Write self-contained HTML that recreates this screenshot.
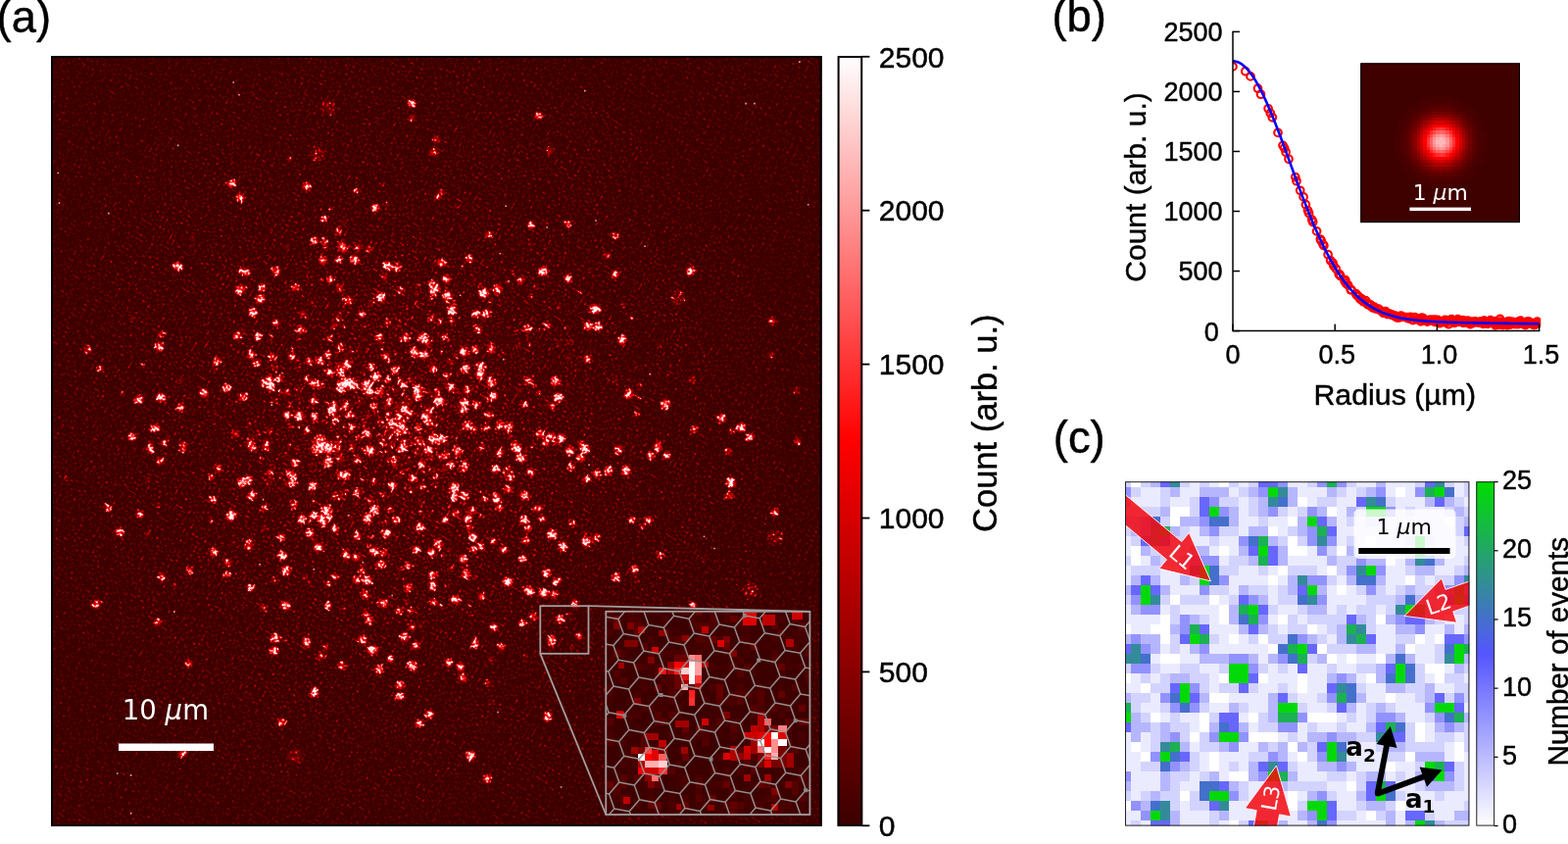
<!DOCTYPE html>
<html lang="en"><head><meta charset="utf-8"><title>Figure</title>
<style>html,body{margin:0;padding:0;background:#fff;overflow:hidden}svg{display:block}text{white-space:pre}</style>
</head><body>
<svg width="1600" height="861" viewBox="0 0 1600 861">
<rect width="1600" height="861" fill="#fff"/>
<defs>
<filter id="fA" filterUnits="userSpaceOnUse" x="-117.2" y="-112.4" width="1124.8" height="1124.8" color-interpolation-filters="sRGB"><feGaussianBlur in="SourceGraphic" stdDeviation="1.8" result="I"/><feTurbulence type="fractalNoise" baseFrequency="0.41" numOctaves="1" seed="11" result="n0"/><feColorMatrix in="n0" type="matrix" values="1 0 0 0 0  1 0 0 0 0  1 0 0 0 0  0 0 0 0 1" result="n1"/><feComponentTransfer in="n1" result="N"><feFuncR type="table" tableValues="0.0000 0.0001 0.0004 0.0017 0.0063 0.0239 0.0907 0.3442 1.0000 1.0000 1.0000"/><feFuncG type="table" tableValues="0.0000 0.0001 0.0004 0.0017 0.0063 0.0239 0.0907 0.3442 1.0000 1.0000 1.0000"/><feFuncB type="table" tableValues="0.0000 0.0001 0.0004 0.0017 0.0063 0.0239 0.0907 0.3442 1.0000 1.0000 1.0000"/></feComponentTransfer><feComposite in="I" in2="N" operator="arithmetic" k1="18" k2="0.72" k3="0" k4="-0.02" result="V"/><feComponentTransfer in="V"><feFuncR type="table" tableValues="0.227 1 1"/><feFuncG type="table" tableValues="0 0 1"/><feFuncB type="table" tableValues="0 0 1"/><feFuncA type="linear" slope="0" intercept="1"/></feComponentTransfer></filter>
<radialGradient id="glowA" gradientUnits="userSpaceOnUse" cx="410" cy="440" r="400"><stop offset="0" stop-color="#0c0c0c"/><stop offset="0.2" stop-color="#0b0b0b"/><stop offset="0.4" stop-color="#090909"/><stop offset="0.65" stop-color="#070707"/><stop offset="0.85" stop-color="#060606"/><stop offset="1" stop-color="#050505"/></radialGradient>
<linearGradient id="cbA" x1="0" y1="1" x2="0" y2="0"><stop offset="0" stop-color="#3a0000"/><stop offset="0.5" stop-color="#ff0000"/><stop offset="1" stop-color="#ffffff"/></linearGradient>
<clipPath id="clipA"><rect x="52.0" y="57.0" width="786.5" height="786.0"/></clipPath>
</defs>
<rect x="52.0" y="57.0" width="786.5" height="786.0" fill="#3a0000"/>
<g clip-path="url(#clipA)"><g transform="rotate(31 445.25 450.0)"><g filter="url(#fA)"><g transform="rotate(-31 445.25 450.0)">
<rect x="-148.0" y="-143.0" width="1186.5" height="1186.0" fill="url(#glowA)"/>
<path d="M445.5 200.7l1.5 0.3M813.9 448.9l-0.2 2.5M327.5 391.5l0.7 2.4M395.9 421.8l0.0 0.0M458.7 369.5l-0.0 0.0M593.3 451.9l-0.7 1.3M390.4 504.2l0.4 1.4M448.8 465.0l-0.2 1.0M279.6 592.2l-0.0 0.0M335.6 595.1l-1.7 1.1M267.6 620.0l2.0 0.0" fill="none" stroke="#fff" stroke-opacity="0.42" stroke-width="4.0" stroke-linecap="round"/>
<path d="M444.8 142.2l1.6 1.3M163.8 340.9l-0.0 0.0M103.4 375.3l-2.3 0.9M308.4 319.6l0.6 0.8M347.6 352.0l-0.0 0.0M461.4 326.4l-0.7 1.3M292.7 399.0l-0.6 1.4M253.7 451.0l1.9 0.7M345.2 451.4l-0.0 0.0M446.9 398.3l-1.1 1.7M518.5 477.1l0.0 0.0M493.5 508.6l2.3 0.9M655.8 537.5l0.0 0.0M419.9 622.9l-1.5 1.3M597.2 556.0l0.9 0.4M332.5 660.3l-0.1 1.0" fill="none" stroke="#fff" stroke-opacity="0.5" stroke-width="4.0" stroke-linecap="round"/>
<path d="M344.7 234.6l1.0 2.3M331.3 246.3l0.1 2.0M340.6 332.8l0.0 0.0M392.4 282.9l-0.0 0.0M449.3 328.2l-0.0 0.0M452.7 343.3l1.5 0.0M501.1 352.6l0.0 0.0M249.9 403.3l0.3 1.0M567.4 451.4l-0.0 0.0M187.2 456.6l-0.3 1.5M359.7 456.1l-0.8 1.3M402.8 474.7l0.0 0.0M382.0 490.6l-1.3 0.8M430.5 496.1l0.5 1.4M479.4 537.4l-0.7 1.3M552.4 528.7l2.2 1.2M551.2 518.3l-0.0 0.0M373.2 625.4l0.1 2.0M562.0 655.1l1.3 2.1" fill="none" stroke="#fff" stroke-opacity="0.6" stroke-width="4.0" stroke-linecap="round"/>
<path d="M548.8 117.2l2.2 1.1M450.9 267.9l1.8 0.9M708.3 437.3l-0.4 1.4M312.7 386.9l-0.0 0.0M413.2 438.5l0.2 1.5M455.8 382.9l0.0 0.0M496.5 436.3l-0.0 0.0M164.7 469.7l-1.8 0.9M110.0 517.5l0.8 1.3M232.1 586.1l-0.9 0.3M275.6 482.3l0.0 0.0M269.7 518.3l-0.0 0.0M473.4 477.4l0.9 0.5M505.3 505.4l2.1 1.4M582.4 476.2l1.4 0.5M584.3 534.0l0.0 0.0M443.7 614.2l-1.5 0.1M420.8 639.8l0.0 0.0M399.0 671.5l-0.7 1.9" fill="none" stroke="#fff" stroke-opacity="0.75" stroke-width="4.5" stroke-linecap="round"/>
<path d="M167.3 452.0l-0.0 0.0M267.6 292.1l-0.4 2.5M478.3 263.0l1.4 1.4M787.5 327.5l0.0 0.0M262.9 370.5l-2.5 0.4M397.6 407.9l-1.2 2.2M563.4 414.2l0.0 0.0M294.7 482.3l0.0 0.0M429.5 473.1l1.2 2.2M517.5 498.9l2.0 0.4M510.4 517.7l-0.0 0.0M503.4 552.0l-0.0 0.0M599.8 488.5l-2.0 0.3M586.6 614.7l0.0 2.5" fill="none" stroke="#fff" stroke-opacity="0.85" stroke-width="4.5" stroke-linecap="round"/>
<path d="M541.8 228.9l-0.0 1.5M243.1 342.2l-1.6 1.2M222.3 367.9l-1.7 1.8M247.4 405.5l0.0 0.0M315.2 368.7l0.9 0.4M313.3 439.2l0.0 0.0M395.9 387.5l0.0 0.0M381.3 414.3l0.2 1.0M535.4 412.5l0.0 0.0M152.9 457.3l0.9 2.3M142.4 524.7l1.0 0.0M193.6 582.3l-0.0 0.0M286.5 547.5l1.2 0.8M402.8 468.4l0.0 0.0M364.1 502.2l-0.4 0.9M254.9 599.3l1.9 0.7M441.8 599.7l0.0 0.0M569.0 592.5l-1.9 1.6M591.2 649.1l-0.0 0.0M564.0 652.0l-2.5 0.1M428.9 737.8l-2.4 0.7" fill="none" stroke="#fff" stroke-opacity="0.95" stroke-width="4.5" stroke-linecap="round"/>
<path d="M446.0 294.0l-0.0 0.0M330.8 223.4l-0.0 0.0M579.6 228.1l0.0 0.0M320.8 424.3l0.2 2.0M352.9 413.1l-1.2 2.2M355.8 423.5l0.0 0.0M216.8 509.4l0.9 0.5M218.1 561.8l0.6 2.4M454.4 529.8l-0.7 1.3M537.6 551.3l-1.0 0.2M680.7 464.7l-1.0 0.1M490.4 556.6l0.5 1.4" fill="none" stroke="#fff" stroke-opacity="1.0" stroke-width="4.5" stroke-linecap="round"/>
<path d="M153.4 453.6l-0.0 0.0M705.7 387.4l-0.0 0.0M812.6 399.0l0.0 0.0M650.0 422.2l-0.0 0.0M747.6 439.7l0.0 0.0M274.4 439.8l-0.0 0.0" fill="none" stroke="#fff" stroke-opacity="0.28" stroke-width="5.0" stroke-linecap="round"/>
<path d="M420.7 121.2l0.0 0.0M450.0 197.2l-0.0 0.0M619.7 260.8l0.0 0.0M787.0 361.9l0.0 0.0M497.6 696.8l0.0 0.0" fill="none" stroke="#fff" stroke-opacity="0.36" stroke-width="5.0" stroke-linecap="round"/>
<path d="M363.8 195.1l0.0 0.0M626.6 239.7l2.1 1.3M240.5 442.0l0.0 0.0M448.5 267.4l-0.7 0.8M557.9 331.5l0.4 1.4M671.4 452.7l-0.9 0.4M272.0 451.6l0.1 2.0M215.4 486.4l-0.0 0.0M346.6 466.8l0.7 1.9M377.9 510.7l0.0 0.0M397.8 519.7l0.8 0.7M491.8 456.2l0.0 0.0M742.9 460.8l0.0 0.0" fill="none" stroke="#fff" stroke-opacity="0.42" stroke-width="5.0" stroke-linecap="round"/>
<path d="M187.0 453.6l0.0 0.0M346.3 294.0l0.2 1.0M336.5 345.0l0.0 0.0M395.3 329.3l0.0 0.0M440.6 324.7l0.0 0.0M347.6 356.2l-0.0 0.0M419.2 420.8l-1.3 0.7M439.5 417.6l-1.3 1.5M427.3 436.7l-1.3 1.5M300.2 513.6l-0.4 2.5M445.2 486.4l-0.0 0.0M745.3 505.3l-2.4 0.7M252.3 557.5l2.4 0.8M369.9 581.3l-0.4 2.0M407.4 622.3l-0.9 1.2M327.9 668.9l-0.2 1.0" fill="none" stroke="#fff" stroke-opacity="0.5" stroke-width="5.0" stroke-linecap="round"/>
<path d="M246.2 276.5l1.6 1.2M301.0 293.3l2.0 0.1M436.4 347.9l-1.0 2.3M270.9 456.2l-0.0 0.0M446.5 552.9l0.9 0.4M539.5 537.9l-1.4 1.5M548.1 518.8l-1.0 0.2M313.7 653.1l-2.0 0.1M191.7 676.8l0.8 0.6M370.8 655.0l0.0 0.0" fill="none" stroke="#fff" stroke-opacity="0.6" stroke-width="5.0" stroke-linecap="round"/>
<path d="M499.2 239.7l0.0 0.0M282.5 275.8l0.1 2.0M327.6 446.5l-1.9 0.6M223.1 477.8l-0.0 0.0M341.8 588.7l-0.0 0.0M483.2 559.6l0.9 1.2M286.4 736.9l1.5 0.2" fill="none" stroke="#fff" stroke-opacity="0.75" stroke-width="5.0" stroke-linecap="round"/>
<path d="M474.0 473.0l-0.0 0.0M321.2 459.0l1.6 2.0M387.7 343.3l-1.0 1.1M320.6 408.3l-0.6 1.4M541.1 481.0l1.4 1.4M363.2 567.9l0.3 1.0M440.8 586.6l0.7 0.8M491.8 608.4l-0.0 0.0M511.6 660.1l-0.0 0.0M497.8 793.3l-1.2 2.2" fill="none" stroke="#fff" stroke-opacity="0.85" stroke-width="5.0" stroke-linecap="round"/>
<path d="M329.1 265.2l-0.2 1.0M345.8 264.9l0.0 0.0M337.1 285.4l-0.0 0.0M454.4 284.0l1.6 1.2M579.1 283.2l1.1 1.7M765.5 445.1l-1.0 1.7M335.4 379.5l2.3 1.0M284.8 386.3l-1.0 0.2M340.6 413.1l0.0 0.0M451.1 447.6l1.4 0.6M253.7 488.6l-0.4 2.5M645.2 530.5l-0.0 0.0M391.2 564.3l0.0 0.0M534.3 569.8l-1.4 0.6M484.7 657.3l0.2 1.0" fill="none" stroke="#fff" stroke-opacity="0.95" stroke-width="5.0" stroke-linecap="round"/>
<path d="M244.4 201.1l1.5 1.3M184.2 415.5l0.0 1.0M281.4 329.3l-0.0 0.0M441.3 296.8l1.0 2.3M369.7 320.6l0.0 0.0M507.1 293.9l0.8 2.4M256.2 361.2l0.4 1.5M358.7 435.7l0.0 0.0M501.1 356.7l-0.0 0.0M476.7 398.0l0.0 0.0M347.4 484.9l1.4 0.6M320.7 525.1l-2.0 1.5M399.5 494.5l0.9 1.2M334.8 617.7l0.0 0.0M352.5 564.9l0.9 2.3M440.7 563.0l-0.3 1.5M416.2 577.1l-0.0 0.0M409.2 710.3l-2.5 0.0" fill="none" stroke="#fff" stroke-opacity="1.0" stroke-width="5.0" stroke-linecap="round"/>
<path d="M297.6 363.7l-0.0 0.0M269.2 390.5l-0.1 1.0M473.4 417.6l-1.4 1.4M121.2 541.9l1.7 1.9M330.0 533.5l0.3 0.9M405.3 530.2l-1.4 0.6M608.5 482.4l0.3 1.0M706.9 617.6l-0.0 0.0M417.2 599.4l-0.7 0.7M376.7 632.1l-0.1 1.5M469.7 679.6l0.1 2.0" fill="none" stroke="#fff" stroke-opacity="0.75" stroke-width="5.5" stroke-linecap="round"/>
<path d="M143.0 407.5l-2.4 0.6M159.2 436.5l-2.4 0.8M263.4 342.5l-0.1 1.5M440.8 289.5l0.8 0.6M414.3 343.5l-0.8 1.8M326.1 367.6l1.2 1.6M460.2 394.4l0.5 1.4M510.5 433.5l-0.3 1.0M599.4 366.0l0.0 0.0M557.0 451.4l-0.0 0.0M466.5 459.0l0.6 2.4M510.1 461.6l-0.6 0.8M504.5 639.8l-1.0 0.0M565.1 606.1l0.0 0.0M313.2 656.9l-0.0 0.0" fill="none" stroke="#fff" stroke-opacity="0.85" stroke-width="5.5" stroke-linecap="round"/>
<path d="M506.1 510.2l1.0 0.1M382.4 212.0l0.9 0.5M231.7 395.7l-1.0 1.1M736.1 426.2l0.7 1.3M346.6 397.0l1.8 0.8M409.5 433.6l-0.6 0.8M484.8 356.7l0.0 0.0M298.8 485.2l0.0 0.0M257.7 504.8l-1.5 1.4M308.1 528.7l-0.1 2.5M534.2 505.0l2.3 1.0M478.3 529.1l-2.0 0.4M790.5 522.8l0.0 0.0M533.0 635.7l-0.0 0.0M570.7 631.6l1.5 0.2M438.9 728.7l-1.4 0.4" fill="none" stroke="#fff" stroke-opacity="0.95" stroke-width="5.5" stroke-linecap="round"/>
<path d="M441.6 596.1l0.0 0.0M207.4 400.1l1.1 1.6M134.3 445.8l1.0 0.2M251.4 277.6l0.0 0.0M627.8 280.0l0.0 0.0M334.2 362.0l0.0 0.0M292.7 423.1l0.6 0.8M433.6 424.7l0.0 0.0M399.5 430.2l0.9 1.8M374.0 440.9l0.8 1.3M447.6 449.1l-0.0 0.0M486.0 413.1l0.0 0.0M561.7 445.6l1.0 0.0M341.4 538.8l0.6 0.8M661.6 530.5l0.0 0.0M326.1 558.2l-2.5 0.5M463.3 611.6l2.4 0.6M424.2 658.5l0.0 0.0" fill="none" stroke="#fff" stroke-opacity="1.0" stroke-width="5.5" stroke-linecap="round"/>
<path d="M442.3 154.8l1.0 1.1M365.4 252.4l-0.0 0.0M89.5 356.7l-0.0 0.0M322.0 451.4l0.0 0.0M331.3 451.4l-0.0 0.0M430.1 451.4l-0.0 0.0M497.5 423.4l2.5 0.2M344.1 458.5l-0.0 0.0M254.6 552.6l-0.0 0.0M466.1 523.3l-2.0 0.4M608.8 547.8l-1.5 1.4M673.2 566.5l0.0 0.0M543.8 627.8l0.5 1.9" fill="none" stroke="#fff" stroke-opacity="0.42" stroke-width="6.0" stroke-linecap="round"/>
<path d="M531.3 285.8l-0.0 0.0M487.7 335.0l0.1 1.5M540.2 388.0l-1.5 1.3M483.7 437.5l0.0 0.0M232.3 573.5l0.0 0.0M164.9 588.1l0.3 1.0M161.0 635.0l0.0 0.0M365.1 468.9l-0.0 0.0M482.5 520.2l-1.2 0.9M448.0 556.6l-0.9 0.4M372.0 605.6l1.3 2.1M348.2 678.4l1.0 1.1" fill="none" stroke="#fff" stroke-opacity="0.5" stroke-width="6.0" stroke-linecap="round"/>
<path d="M355.1 306.5l-1.0 0.3M537.6 334.9l1.4 0.6M277.9 364.3l0.0 0.0M342.9 428.2l-0.0 0.0M406.9 423.4l0.1 2.5M449.4 408.0l1.2 0.9M550.2 442.4l1.9 0.6M99.0 615.7l-1.4 1.4M455.1 464.7l-1.0 0.3M519.6 486.0l1.3 0.7M631.8 457.9l-0.9 2.3M370.7 651.9l-2.0 0.1M187.5 767.9l-1.8 0.9" fill="none" stroke="#fff" stroke-opacity="0.6" stroke-width="6.0" stroke-linecap="round"/>
<path d="M237.5 187.1l-1.9 0.7M405.2 273.6l-0.0 0.0M496.6 319.0l-1.5 2.0M394.1 363.7l0.0 0.0M442.3 376.5l0.0 0.0M387.2 399.7l0.0 0.0M256.7 455.7l0.5 0.8M335.4 526.0l-0.1 2.0M363.9 591.6l0.0 0.0M391.1 615.4l1.5 0.1M513.9 560.8l0.0 0.0M472.1 691.7l-0.0 0.0" fill="none" stroke="#fff" stroke-opacity="0.75" stroke-width="6.0" stroke-linecap="round"/>
<path d="M349.4 250.8l1.0 2.3M319.9 390.8l1.9 0.5M379.0 374.2l0.0 0.0M411.6 392.7l-0.0 0.0M475.9 375.0l-1.8 1.7M489.7 373.2l1.8 0.8M328.5 458.4l1.0 0.2M592.4 467.2l0.0 0.0M599.4 551.6l-2.4 0.7M663.9 464.8l-0.0 0.0" fill="none" stroke="#fff" stroke-opacity="0.85" stroke-width="6.0" stroke-linecap="round"/>
<path d="M274.3 387.0l-0.0 0.0M180.1 271.3l2.3 0.9M433.7 361.9l-2.5 0.2M402.8 377.6l-0.0 0.0M572.6 446.3l0.1 1.0M301.1 472.4l0.0 0.0M298.9 492.0l-1.4 0.4M319.0 494.9l0.2 1.5M421.4 488.1l0.0 0.0M506.2 478.1l-1.0 0.2M381.0 562.3l2.0 0.4M424.9 560.8l0.0 0.0M387.0 682.4l0.2 1.0M320.9 704.9l-0.1 2.5M458.1 675.9l-0.0 0.0" fill="none" stroke="#fff" stroke-opacity="0.95" stroke-width="6.0" stroke-linecap="round"/>
<path d="M389.2 302.0l-0.5 2.5M486.0 320.0l-0.0 0.0M599.5 332.0l0.9 0.4M635.2 346.1l-0.9 1.2M412.8 417.7l1.0 0.1M567.3 388.7l-1.0 1.1M287.5 566.0l1.6 1.2M408.0 699.1l-0.0 0.0" fill="none" stroke="#fff" stroke-opacity="1.0" stroke-width="6.0" stroke-linecap="round"/>
<path d="M376.6 253.6l-0.0 0.0M561.0 153.7l-0.0 0.0M345.2 324.7l-0.0 0.0M409.2 296.2l-0.0 0.0M390.7 451.4l0.0 0.0M525.5 452.6l0.0 0.0M484.8 653.7l0.0 0.0" fill="none" stroke="#fff" stroke-opacity="0.28" stroke-width="6.5" stroke-linecap="round"/>
<path d="M342.9 506.1l-0.0 0.0" fill="none" stroke="#fff" stroke-opacity="0.36" stroke-width="6.5" stroke-linecap="round"/>
<path d="M320.8 245.5l0.0 0.0M162.1 353.2l1.0 1.1M306.9 336.9l0.0 0.0M436.6 428.5l1.0 1.7M442.7 446.6l-2.0 1.6M519.4 434.8l-0.5 1.9M642.2 400.9l-0.8 2.4M364.5 546.8l-0.0 0.0M459.9 474.2l0.0 0.0M621.5 479.2l-1.3 1.5M670.9 457.3l0.0 0.0M389.4 575.7l-0.9 0.3M647.6 581.1l-0.0 0.0" fill="none" stroke="#fff" stroke-opacity="0.75" stroke-width="6.5" stroke-linecap="round"/>
<path d="M422.4 358.1l1.1 2.2M313.2 190.2l0.0 0.0M245.8 295.6l-1.4 1.4M394.8 270.7l2.2 1.2M705.1 276.2l-0.9 0.4M679.5 411.6l-0.9 1.8M347.3 378.7l0.5 1.4M477.1 433.6l-0.7 0.7M247.4 491.3l-0.9 1.8M315.8 543.5l0.7 0.7M411.6 455.7l-1.2 2.2M281.0 650.1l-0.5 1.4" fill="none" stroke="#fff" stroke-opacity="0.85" stroke-width="6.5" stroke-linecap="round"/>
<path d="M420.0 105.6l-0.0 0.0M461.2 315.3l-0.3 2.5M352.9 484.6l-0.0 0.0M530.5 466.6l1.7 1.1M463.4 507.3l0.0 0.0M482.7 547.6l0.8 0.6M472.6 570.1l0.0 0.0M574.2 556.6l0.3 1.5" fill="none" stroke="#fff" stroke-opacity="0.95" stroke-width="6.5" stroke-linecap="round"/>
<path d="M494.5 298.4l-2.0 1.5M426.0 403.3l0.2 1.0M446.8 408.3l0.4 1.5M474.2 411.0l-0.7 0.7M375.1 527.5l-0.3 2.5M526.3 456.9l1.8 0.9M516.8 593.4l2.3 0.9M557.5 584.6l0.0 0.0M553.7 604.8l2.0 0.2M480.1 770.4l0.1 1.5" fill="none" stroke="#fff" stroke-opacity="1.0" stroke-width="6.5" stroke-linecap="round"/>
<path d="M163.3 405.4l2.0 0.2M266.1 304.7l-0.9 0.4M257.7 318.0l0.8 1.3M500.7 389.2l0.8 1.3M428.9 537.9l-1.0 0.2M292.1 581.1l-0.5 2.4M412.9 649.2l-0.3 1.0M475.6 585.8l0.0 0.0M629.0 588.7l-0.0 0.0M558.9 730.7l-0.3 0.9" fill="none" stroke="#fff" stroke-opacity="0.75" stroke-width="7.0" stroke-linecap="round"/>
<path d="M353.9 371.5l-0.8 1.8M376.3 398.8l0.7 0.7M472.8 358.8l0.8 0.6M503.4 403.8l-0.0 0.0M336.4 456.1l-0.8 2.4M334.9 470.0l-0.2 2.5M473.8 505.5l-0.0 0.0M595.7 456.9l1.6 1.9M290.8 617.5l0.9 0.4M279.7 663.8l0.0 0.0M420.0 678.7l1.5 1.4" fill="none" stroke="#fff" stroke-opacity="0.85" stroke-width="7.0" stroke-linecap="round"/>
<path d="M355.6 389.4l0.0 0.0M328.2 454.1l-0.8 0.5M327.8 528.7l-0.0 0.0M332.0 519.9l2.0 0.2M359.1 393.3l1.5 0.1" fill="none" stroke="#fff" stroke-opacity="0.9" stroke-width="7.0" stroke-linecap="round"/>
<path d="M430.6 344.4l1.5 0.1M554.8 276.9l-1.4 0.4M609.8 333.4l-0.0 0.0M756.4 436.2l0.0 0.0M339.9 418.0l-1.0 1.7M375.1 392.1l-1.5 0.1M490.2 381.2l-0.4 0.9M570.5 405.3l-1.5 0.4M437.1 459.1l0.0 0.0M382.6 519.3l-0.2 1.5M534.8 530.5l0.0 0.0M581.4 460.2l0.0 0.0M373.7 591.9l1.4 0.4M381.1 663.0l-2.0 0.3" fill="none" stroke="#fff" stroke-opacity="0.95" stroke-width="7.0" stroke-linecap="round"/>
<path d="M348.8 392.0l2.5 0.0M362.2 264.9l-0.0 0.0M456.5 301.0l-0.2 1.0M606.2 315.3l2.5 0.2M276.3 393.2l-0.2 1.5M305.1 423.9l0.2 1.5M384.2 384.5l-1.0 0.3M425.5 396.8l-0.0 0.0M236.6 524.9l-1.6 1.9M376.8 458.9l1.0 0.3M394.7 543.9l-0.0 0.0M463.5 496.7l-0.2 2.5M638.9 479.5l-0.1 1.0M562.6 545.6l1.5 0.0M745.6 491.4l0.2 1.5M539.5 602.7l1.1 1.0" fill="none" stroke="#fff" stroke-opacity="1.0" stroke-width="7.0" stroke-linecap="round"/>
<path d="M334.8 109.6l0.0 0.0M324.3 157.2l0.0 0.0M691.8 303.8l0.0 0.0M791.7 547.9l0.0 0.0M766.1 602.5l0.0 0.0M301.1 771.1l-0.0 0.0" fill="none" stroke="#fff" stroke-opacity="0.09" stroke-width="15" stroke-linecap="round"/>
<path d="M368 500h0M430 415h0M303 367h0M419 324h0M330 561h0M445 426h0M429 441h0M417 521h0M417 408h0M400 453h0M405 440h0M418 386h0M412 435h0M320 431h0M363 327h0M422 498h0M473 271h0M360 305h0M297 468h0M287 500h0M372 441h0M274 495h0M400 432h0M719 569h0M284 651h0M397 443h0M339 438h0M441 466h0M444 495h0M360 388h0M397 439h0M425 452h0M367 410h0M440 439h0M317 475h0M354 409h0M406 414h0M348 317h0M450 359h0M389 189h0M242 411h0M339 509h0M375 538h0M461 435h0M406 443h0M434 470h0M579 334h0M278 475h0M247 266h0M452 428h0M511 307h0M402 504h0M539 345h0M408 329h0M406 442h0M407 429h0M560 409h0M406 440h0M413 592h0M371 379h0M508 380h0M413 467h0M376 424h0M597 544h0M408 388h0M386 386h0M398 410h0M411 448h0M485 395h0M413 449h0M288 381h0M261 429h0M396 461h0M390 533h0M430 473h0M237 443h0M405 441h0M416 472h0M425 462h0M454 418h0M442 443h0M359 424h0M479 618h0M315 283h0M189 405h0M404 439h0M433 498h0M516 480h0M406 438h0M305 346h0M351 433h0M348 420h0M286 486h0M349 419h0M240 443h0M249 337h0M557 228h0M467 380h0M277 341h0M420 443h0M438 453h0M412 439h0M335 497h0M476 528h0M418 421h0M405 373h0M441 401h0M408 270h0M278 489h0M502 716h0M390 357h0M521 479h0M249 584h0M436 442h0M419 410h0M400 395h0M513 361h0M427 346h0M456 455h0M371 380h0M428 422h0M465 413h0M401 434h0M307 423h0M178 597h0M397 446h0M417 637h0M459 561h0M398 455h0M456 446h0M392 453h0M501 383h0M438 323h0M389 428h0M403 324h0M245 338h0M381 403h0M374 358h0M365 570h0M406 437h0M465 471h0M196 242h0M305 405h0M455 598h0M317 503h0M465 445h0M534 598h0M429 457h0M419 409h0M251 279h0M404 360h0M526 523h0M485 461h0M399 418h0M393 447h0M255 356h0M349 437h0M448 444h0M682 383h0M298 418h0M450 429h0M443 487h0M602 277h0M439 423h0M650 593h0M376 550h0M411 418h0M303 399h0M439 422h0M395 401h0M408 412h0M467 211h0M368 448h0M478 406h0M397 468h0" fill="none" stroke="#fff" stroke-opacity="0.3" stroke-width="2.4" stroke-linecap="round"/>
<path d="M242 442h0M407 346h0M431 540h0M250 292h0M364 513h0M413 449h0M506 440h0M345 446h0M318 309h0M536 669h0M345 454h0M406 375h0M540 351h0M430 396h0M363 541h0M171 447h0M536 460h0M411 483h0M352 416h0M371 430h0M453 477h0M456 346h0M375 426h0M278 410h0M428 463h0M340 454h0M363 472h0M580 393h0M305 376h0M407 435h0M351 227h0M581 365h0M473 514h0M411 451h0M443 478h0M387 398h0M68 488h0M380 547h0M312 323h0M459 581h0M215 531h0M293 252h0M553 439h0M401 498h0M353 395h0M438 525h0M493 438h0M315 595h0M403 334h0M427 448h0M395 437h0M340 451h0M426 291h0M408 391h0M365 358h0M336 372h0M330 431h0M415 406h0M673 352h0M527 338h0M418 480h0M363 387h0M351 257h0M416 314h0M277 346h0M524 278h0M407 426h0M406 398h0M447 557h0M583 660h0M238 554h0M405 495h0M408 485h0M441 458h0M436 422h0M327 286h0M418 454h0M518 287h0M432 427h0M410 442h0M408 440h0M435 459h0M491 291h0M291 464h0M451 446h0M387 433h0M402 451h0M416 428h0M431 399h0M416 615h0M428 384h0M334 412h0M389 465h0M302 458h0M402 398h0M222 481h0M501 408h0M399 469h0M360 450h0M270 539h0M315 532h0M442 479h0M220 422h0M507 518h0M501 307h0M438 479h0M299 356h0M382 305h0M542 249h0M338 213h0M406 444h0M352 304h0M476 579h0M570 313h0M383 406h0M394 414h0M471 480h0M353 362h0M570 352h0M255 433h0M493 503h0M371 346h0M334 426h0M409 441h0M135 325h0M365 435h0M330 243h0M306 434h0M391 546h0M366 446h0M446 457h0M463 308h0M301 337h0M475 473h0M537 388h0M480 627h0M411 434h0M295 414h0M449 387h0M400 431h0M397 433h0M395 531h0M352 504h0M411 437h0M387 444h0M405 439h0M416 498h0M407 441h0M220 377h0M458 517h0M475 437h0M389 299h0M484 590h0M426 299h0M370 397h0M441 409h0M386 460h0" fill="none" stroke="#fff" stroke-opacity="0.45" stroke-width="2.4" stroke-linecap="round"/>
<path d="M336 620h0M371 459h0M399 434h0M441 600h0M396 413h0M541 303h0M278 275h0M426 459h0M429 513h0M408 437h0M394 461h0M440 467h0M258 446h0M362 504h0M361 423h0M348 507h0M146 373h0M378 310h0M440 419h0M278 373h0M384 422h0M360 423h0M293 400h0M426 448h0M419 424h0M350 383h0M546 293h0M426 310h0M545 393h0M444 585h0M386 615h0M452 567h0M352 501h0M628 388h0M355 482h0M376 557h0M296 163h0M357 359h0M405 414h0M432 481h0M386 386h0M454 447h0M396 470h0M281 376h0M514 483h0M377 445h0M405 432h0M530 399h0M429 638h0M403 438h0M401 433h0M406 459h0M371 433h0M439 305h0M369 489h0M398 428h0M401 442h0M412 429h0M409 438h0M346 372h0M543 455h0M125 402h0M418 387h0M296 435h0M592 298h0M332 254h0M379 464h0M361 393h0M266 468h0M306 396h0M290 653h0M359 528h0M652 406h0M167 341h0M321 552h0M497 406h0M273 490h0M400 455h0M185 388h0M437 400h0M469 401h0M390 351h0M431 453h0M405 441h0M395 208h0M409 436h0M388 430h0M420 502h0M406 417h0M484 286h0M531 571h0M293 495h0M456 392h0M369 446h0M390 395h0M456 309h0M409 581h0M402 435h0M644 324h0M357 440h0M360 569h0M403 446h0M436 433h0M419 450h0M415 423h0M653 393h0M445 434h0M421 389h0M339 433h0M409 441h0M398 430h0M426 452h0M410 481h0M320 512h0M366 394h0M581 349h0M390 399h0M374 460h0M311 589h0M393 443h0M450 618h0M389 431h0M332 452h0M424 463h0M405 440h0M529 353h0M424 452h0M580 627h0M422 660h0M350 387h0M612 485h0M492 527h0M395 425h0M350 333h0M351 620h0M365 447h0M413 412h0M151 544h0M264 442h0M461 579h0M465 363h0M411 403h0M550 337h0M390 453h0M426 434h0M430 522h0M162 516h0M286 400h0M549 401h0M453 480h0M366 410h0M442 434h0M346 371h0M295 454h0M440 370h0M520 445h0M408 386h0M397 446h0M469 441h0M356 421h0M281 408h0M636 311h0M372 333h0M397 369h0M151 490h0M501 673h0M385 302h0M394 434h0" fill="none" stroke="#fff" stroke-opacity="0.6" stroke-width="2.4" stroke-linecap="round"/>
</g></g></g></g>
<path d="M237.4 83.2h1.6v1.6h-1.6zM243.2 96.0h1.6v1.6h-1.6zM58.5 175.7h1.6v1.6h-1.6zM59.7 206.3h1.6v1.6h-1.6zM110.1 216.8h1.6v1.6h-1.6zM180.9 147.6h1.6v1.6h-1.6zM557.4 231.2h1.6v1.6h-1.6zM607.2 224.2h1.6v1.6h-1.6zM515.4 209.4h1.6v1.6h-1.6zM596.0 91.8h1.6v1.6h-1.6zM760.2 104.8h1.6v1.6h-1.6zM769.1 104.8h1.6v1.6h-1.6zM823.9 208.0h1.6v1.6h-1.6zM657.3 250.5h1.6v1.6h-1.6zM815.1 62.3h1.6v1.6h-1.6zM468.9 300.4h1.6v1.6h-1.6zM509.6 257.9h1.6v1.6h-1.6zM518.3 286.1h1.6v1.6h-1.6zM662.4 380.8h1.6v1.6h-1.6zM276.5 412.3h1.6v1.6h-1.6zM513.1 365.8h1.6v1.6h-1.6zM177.0 623.3h1.6v1.6h-1.6zM267.8 508.8h1.6v1.6h-1.6zM355.0 525.0h1.6v1.6h-1.6zM600.3 473.4h1.6v1.6h-1.6zM717.7 546.4h1.6v1.6h-1.6zM728.2 558.7h1.6v1.6h-1.6zM264.3 574.9h1.6v1.6h-1.6zM319.5 580.0h1.6v1.6h-1.6zM369.5 573.0h1.6v1.6h-1.6zM399.4 606.7h1.6v1.6h-1.6zM118.9 788.2h1.6v1.6h-1.6zM132.8 790.1h1.6v1.6h-1.6zM132.8 828.9h1.6v1.6h-1.6zM507.3 725.7h1.6v1.6h-1.6zM571.8 802.2h1.6v1.6h-1.6z" fill="#ff9a9a"/>
<clipPath id="clipI"><rect x="618.3" y="623.8" width="208.1" height="207.2"/></clipPath>
<rect x="618.3" y="623.8" width="208.1" height="207.2" fill="#3d0000"/>
<g clip-path="url(#clipI)" shape-rendering="crispEdges">
<path d="M618.5 620.9h7.03v7.03h-7.03zM639.5 620.9h7.03v7.03h-7.03zM695.8 620.9h7.03v7.03h-7.03zM723.9 620.9h7.03v7.03h-7.03zM738.0 620.9h7.03v7.03h-7.03zM766.1 620.9h7.03v7.03h-7.03zM618.5 627.9h7.03v7.03h-7.03zM639.5 627.9h7.03v7.03h-7.03zM646.6 627.9h7.03v7.03h-7.03zM674.7 627.9h7.03v7.03h-7.03zM702.8 627.9h7.03v7.03h-7.03zM738.0 627.9h7.03v7.03h-7.03zM752.0 627.9h7.03v7.03h-7.03zM794.2 627.9h7.03v7.03h-7.03zM702.8 634.9h7.03v7.03h-7.03zM723.9 634.9h7.03v7.03h-7.03zM752.0 634.9h7.03v7.03h-7.03zM759.1 634.9h7.03v7.03h-7.03zM618.5 641.9h7.03v7.03h-7.03zM709.8 641.9h7.03v7.03h-7.03zM815.3 641.9h7.03v7.03h-7.03zM646.6 649.0h7.03v7.03h-7.03zM660.6 649.0h7.03v7.03h-7.03zM681.7 649.0h7.03v7.03h-7.03zM695.8 649.0h7.03v7.03h-7.03zM716.9 649.0h7.03v7.03h-7.03zM730.9 649.0h7.03v7.03h-7.03zM752.0 649.0h7.03v7.03h-7.03zM759.1 649.0h7.03v7.03h-7.03zM787.2 649.0h7.03v7.03h-7.03zM801.2 649.0h7.03v7.03h-7.03zM639.5 656.0h7.03v7.03h-7.03zM716.9 656.0h7.03v7.03h-7.03zM808.3 656.0h7.03v7.03h-7.03zM822.3 656.0h7.03v7.03h-7.03zM632.5 663.0h7.03v7.03h-7.03zM660.6 663.0h7.03v7.03h-7.03zM674.7 663.0h7.03v7.03h-7.03zM681.7 663.0h7.03v7.03h-7.03zM688.8 663.0h7.03v7.03h-7.03zM709.8 663.0h7.03v7.03h-7.03zM787.2 663.0h7.03v7.03h-7.03zM709.8 670.1h7.03v7.03h-7.03zM752.0 670.1h7.03v7.03h-7.03zM653.6 677.1h7.03v7.03h-7.03zM667.7 677.1h7.03v7.03h-7.03zM709.8 677.1h7.03v7.03h-7.03zM723.9 677.1h7.03v7.03h-7.03zM815.3 677.1h7.03v7.03h-7.03zM681.7 684.1h7.03v7.03h-7.03zM674.7 691.1h7.03v7.03h-7.03zM681.7 691.1h7.03v7.03h-7.03zM822.3 691.1h7.03v7.03h-7.03zM618.5 698.2h7.03v7.03h-7.03zM653.6 698.2h7.03v7.03h-7.03zM681.7 698.2h7.03v7.03h-7.03zM695.8 698.2h7.03v7.03h-7.03zM723.9 698.2h7.03v7.03h-7.03zM752.0 698.2h7.03v7.03h-7.03zM773.1 698.2h7.03v7.03h-7.03zM618.5 705.2h7.03v7.03h-7.03zM646.6 705.2h7.03v7.03h-7.03zM688.8 705.2h7.03v7.03h-7.03zM745.0 705.2h7.03v7.03h-7.03zM766.1 705.2h7.03v7.03h-7.03zM681.7 712.2h7.03v7.03h-7.03zM716.9 712.2h7.03v7.03h-7.03zM738.0 712.2h7.03v7.03h-7.03zM745.0 712.2h7.03v7.03h-7.03zM653.6 719.3h7.03v7.03h-7.03zM660.6 719.3h7.03v7.03h-7.03zM688.8 719.3h7.03v7.03h-7.03zM773.1 719.3h7.03v7.03h-7.03zM801.2 719.3h7.03v7.03h-7.03zM639.5 726.3h7.03v7.03h-7.03zM646.6 726.3h7.03v7.03h-7.03zM688.8 726.3h7.03v7.03h-7.03zM766.1 726.3h7.03v7.03h-7.03zM780.1 726.3h7.03v7.03h-7.03zM794.2 726.3h7.03v7.03h-7.03zM716.9 733.3h7.03v7.03h-7.03zM745.0 733.3h7.03v7.03h-7.03zM752.0 733.3h7.03v7.03h-7.03zM723.9 740.4h7.03v7.03h-7.03zM801.2 740.4h7.03v7.03h-7.03zM618.5 747.4h7.03v7.03h-7.03zM681.7 747.4h7.03v7.03h-7.03zM695.8 747.4h7.03v7.03h-7.03zM709.8 747.4h7.03v7.03h-7.03zM716.9 747.4h7.03v7.03h-7.03zM745.0 747.4h7.03v7.03h-7.03zM815.3 747.4h7.03v7.03h-7.03zM632.5 754.4h7.03v7.03h-7.03zM639.5 768.5h7.03v7.03h-7.03zM660.6 768.5h7.03v7.03h-7.03zM730.9 768.5h7.03v7.03h-7.03zM766.1 768.5h7.03v7.03h-7.03zM632.5 775.5h7.03v7.03h-7.03zM646.6 775.5h7.03v7.03h-7.03zM688.8 775.5h7.03v7.03h-7.03zM653.6 782.5h7.03v7.03h-7.03zM723.9 782.5h7.03v7.03h-7.03zM738.0 782.5h7.03v7.03h-7.03zM752.0 782.5h7.03v7.03h-7.03zM815.3 782.5h7.03v7.03h-7.03zM667.7 789.6h7.03v7.03h-7.03zM695.8 789.6h7.03v7.03h-7.03zM709.8 789.6h7.03v7.03h-7.03zM738.0 789.6h7.03v7.03h-7.03zM625.5 796.6h7.03v7.03h-7.03zM695.8 796.6h7.03v7.03h-7.03zM730.9 796.6h7.03v7.03h-7.03zM822.3 796.6h7.03v7.03h-7.03zM709.8 803.6h7.03v7.03h-7.03zM660.6 810.7h7.03v7.03h-7.03zM695.8 810.7h7.03v7.03h-7.03zM780.1 810.7h7.03v7.03h-7.03zM632.5 817.7h7.03v7.03h-7.03zM646.6 817.7h7.03v7.03h-7.03zM681.7 817.7h7.03v7.03h-7.03zM766.1 817.7h7.03v7.03h-7.03zM773.1 817.7h7.03v7.03h-7.03zM794.2 817.7h7.03v7.03h-7.03zM801.2 817.7h7.03v7.03h-7.03zM667.7 824.7h7.03v7.03h-7.03zM688.8 824.7h7.03v7.03h-7.03zM787.2 824.7h7.03v7.03h-7.03zM794.2 824.7h7.03v7.03h-7.03zM625.5 831.8h7.03v7.03h-7.03zM639.5 831.8h7.03v7.03h-7.03zM653.6 831.8h7.03v7.03h-7.03zM681.7 831.8h7.03v7.03h-7.03zM709.8 831.8h7.03v7.03h-7.03zM822.3 831.8h7.03v7.03h-7.03z" fill="#4a0000"/>
<path d="M660.6 620.9h7.03v7.03h-7.03zM667.7 620.9h7.03v7.03h-7.03zM681.7 620.9h7.03v7.03h-7.03zM808.3 620.9h7.03v7.03h-7.03zM822.3 620.9h7.03v7.03h-7.03zM632.5 627.9h7.03v7.03h-7.03zM709.8 627.9h7.03v7.03h-7.03zM787.2 627.9h7.03v7.03h-7.03zM653.6 634.9h7.03v7.03h-7.03zM674.7 634.9h7.03v7.03h-7.03zM730.9 634.9h7.03v7.03h-7.03zM681.7 641.9h7.03v7.03h-7.03zM688.8 641.9h7.03v7.03h-7.03zM723.9 641.9h7.03v7.03h-7.03zM759.1 641.9h7.03v7.03h-7.03zM808.3 641.9h7.03v7.03h-7.03zM639.5 649.0h7.03v7.03h-7.03zM808.3 649.0h7.03v7.03h-7.03zM815.3 649.0h7.03v7.03h-7.03zM618.5 656.0h7.03v7.03h-7.03zM660.6 656.0h7.03v7.03h-7.03zM667.7 656.0h7.03v7.03h-7.03zM674.7 656.0h7.03v7.03h-7.03zM695.8 656.0h7.03v7.03h-7.03zM702.8 656.0h7.03v7.03h-7.03zM709.8 656.0h7.03v7.03h-7.03zM759.1 656.0h7.03v7.03h-7.03zM780.1 656.0h7.03v7.03h-7.03zM801.2 656.0h7.03v7.03h-7.03zM702.8 663.0h7.03v7.03h-7.03zM723.9 663.0h7.03v7.03h-7.03zM738.0 663.0h7.03v7.03h-7.03zM759.1 663.0h7.03v7.03h-7.03zM815.3 663.0h7.03v7.03h-7.03zM618.5 670.1h7.03v7.03h-7.03zM625.5 670.1h7.03v7.03h-7.03zM639.5 670.1h7.03v7.03h-7.03zM653.6 670.1h7.03v7.03h-7.03zM674.7 670.1h7.03v7.03h-7.03zM688.8 670.1h7.03v7.03h-7.03zM745.0 670.1h7.03v7.03h-7.03zM801.2 670.1h7.03v7.03h-7.03zM632.5 677.1h7.03v7.03h-7.03zM639.5 677.1h7.03v7.03h-7.03zM660.6 677.1h7.03v7.03h-7.03zM738.0 677.1h7.03v7.03h-7.03zM766.1 677.1h7.03v7.03h-7.03zM801.2 677.1h7.03v7.03h-7.03zM808.3 677.1h7.03v7.03h-7.03zM709.8 684.1h7.03v7.03h-7.03zM738.0 684.1h7.03v7.03h-7.03zM766.1 684.1h7.03v7.03h-7.03zM794.2 684.1h7.03v7.03h-7.03zM625.5 691.1h7.03v7.03h-7.03zM646.6 691.1h7.03v7.03h-7.03zM653.6 691.1h7.03v7.03h-7.03zM660.6 691.1h7.03v7.03h-7.03zM730.9 691.1h7.03v7.03h-7.03zM738.0 691.1h7.03v7.03h-7.03zM639.5 698.2h7.03v7.03h-7.03zM674.7 698.2h7.03v7.03h-7.03zM688.8 698.2h7.03v7.03h-7.03zM794.2 698.2h7.03v7.03h-7.03zM787.2 705.2h7.03v7.03h-7.03zM618.5 712.2h7.03v7.03h-7.03zM639.5 712.2h7.03v7.03h-7.03zM660.6 712.2h7.03v7.03h-7.03zM667.7 712.2h7.03v7.03h-7.03zM674.7 712.2h7.03v7.03h-7.03zM695.8 712.2h7.03v7.03h-7.03zM766.1 712.2h7.03v7.03h-7.03zM787.2 712.2h7.03v7.03h-7.03zM801.2 712.2h7.03v7.03h-7.03zM639.5 719.3h7.03v7.03h-7.03zM667.7 719.3h7.03v7.03h-7.03zM674.7 719.3h7.03v7.03h-7.03zM730.9 719.3h7.03v7.03h-7.03zM794.2 719.3h7.03v7.03h-7.03zM723.9 726.3h7.03v7.03h-7.03zM730.9 726.3h7.03v7.03h-7.03zM639.5 733.3h7.03v7.03h-7.03zM695.8 733.3h7.03v7.03h-7.03zM723.9 733.3h7.03v7.03h-7.03zM738.0 733.3h7.03v7.03h-7.03zM766.1 733.3h7.03v7.03h-7.03zM773.1 733.3h7.03v7.03h-7.03zM618.5 740.4h7.03v7.03h-7.03zM646.6 740.4h7.03v7.03h-7.03zM752.0 740.4h7.03v7.03h-7.03zM759.1 740.4h7.03v7.03h-7.03zM639.5 747.4h7.03v7.03h-7.03zM702.8 747.4h7.03v7.03h-7.03zM730.9 747.4h7.03v7.03h-7.03zM759.1 747.4h7.03v7.03h-7.03zM787.2 747.4h7.03v7.03h-7.03zM801.2 747.4h7.03v7.03h-7.03zM829.4 747.4h7.03v7.03h-7.03zM625.5 754.4h7.03v7.03h-7.03zM702.8 754.4h7.03v7.03h-7.03zM759.1 754.4h7.03v7.03h-7.03zM815.3 754.4h7.03v7.03h-7.03zM822.3 754.4h7.03v7.03h-7.03zM829.4 754.4h7.03v7.03h-7.03zM632.5 761.5h7.03v7.03h-7.03zM688.8 761.5h7.03v7.03h-7.03zM702.8 761.5h7.03v7.03h-7.03zM759.1 761.5h7.03v7.03h-7.03zM632.5 768.5h7.03v7.03h-7.03zM646.6 768.5h7.03v7.03h-7.03zM674.7 768.5h7.03v7.03h-7.03zM716.9 768.5h7.03v7.03h-7.03zM794.2 768.5h7.03v7.03h-7.03zM801.2 768.5h7.03v7.03h-7.03zM625.5 775.5h7.03v7.03h-7.03zM639.5 775.5h7.03v7.03h-7.03zM660.6 775.5h7.03v7.03h-7.03zM752.0 775.5h7.03v7.03h-7.03zM801.2 775.5h7.03v7.03h-7.03zM625.5 782.5h7.03v7.03h-7.03zM639.5 782.5h7.03v7.03h-7.03zM674.7 782.5h7.03v7.03h-7.03zM688.8 782.5h7.03v7.03h-7.03zM794.2 782.5h7.03v7.03h-7.03zM808.3 782.5h7.03v7.03h-7.03zM625.5 789.6h7.03v7.03h-7.03zM639.5 789.6h7.03v7.03h-7.03zM653.6 789.6h7.03v7.03h-7.03zM688.8 789.6h7.03v7.03h-7.03zM808.3 789.6h7.03v7.03h-7.03zM822.3 789.6h7.03v7.03h-7.03zM653.6 796.6h7.03v7.03h-7.03zM688.8 796.6h7.03v7.03h-7.03zM723.9 796.6h7.03v7.03h-7.03zM766.1 796.6h7.03v7.03h-7.03zM815.3 796.6h7.03v7.03h-7.03zM618.5 803.6h7.03v7.03h-7.03zM660.6 803.6h7.03v7.03h-7.03zM723.9 803.6h7.03v7.03h-7.03zM759.1 803.6h7.03v7.03h-7.03zM780.1 803.6h7.03v7.03h-7.03zM625.5 810.7h7.03v7.03h-7.03zM639.5 810.7h7.03v7.03h-7.03zM646.6 810.7h7.03v7.03h-7.03zM681.7 810.7h7.03v7.03h-7.03zM716.9 810.7h7.03v7.03h-7.03zM745.0 810.7h7.03v7.03h-7.03zM759.1 810.7h7.03v7.03h-7.03zM773.1 810.7h7.03v7.03h-7.03zM794.2 810.7h7.03v7.03h-7.03zM822.3 810.7h7.03v7.03h-7.03zM618.5 817.7h7.03v7.03h-7.03zM709.8 817.7h7.03v7.03h-7.03zM759.1 817.7h7.03v7.03h-7.03zM815.3 817.7h7.03v7.03h-7.03zM660.6 824.7h7.03v7.03h-7.03zM681.7 824.7h7.03v7.03h-7.03zM730.9 824.7h7.03v7.03h-7.03zM752.0 824.7h7.03v7.03h-7.03zM801.2 824.7h7.03v7.03h-7.03zM808.3 824.7h7.03v7.03h-7.03zM815.3 824.7h7.03v7.03h-7.03zM702.8 831.8h7.03v7.03h-7.03zM745.0 831.8h7.03v7.03h-7.03zM766.1 831.8h7.03v7.03h-7.03zM780.1 831.8h7.03v7.03h-7.03zM794.2 831.8h7.03v7.03h-7.03zM829.4 831.8h7.03v7.03h-7.03z" fill="#420000"/>
<path d="M709.8 620.9h7.03v7.03h-7.03zM625.5 627.9h7.03v7.03h-7.03zM745.0 627.9h7.03v7.03h-7.03zM646.6 641.9h7.03v7.03h-7.03zM674.7 641.9h7.03v7.03h-7.03zM829.4 641.9h7.03v7.03h-7.03zM723.9 649.0h7.03v7.03h-7.03zM738.0 656.0h7.03v7.03h-7.03zM766.1 656.0h7.03v7.03h-7.03zM625.5 663.0h7.03v7.03h-7.03zM794.2 677.1h7.03v7.03h-7.03zM829.4 691.1h7.03v7.03h-7.03zM667.7 698.2h7.03v7.03h-7.03zM730.9 698.2h7.03v7.03h-7.03zM702.8 705.2h7.03v7.03h-7.03zM730.9 705.2h7.03v7.03h-7.03zM794.2 705.2h7.03v7.03h-7.03zM815.3 719.3h7.03v7.03h-7.03zM815.3 733.3h7.03v7.03h-7.03zM695.8 740.4h7.03v7.03h-7.03zM709.8 740.4h7.03v7.03h-7.03zM695.8 768.5h7.03v7.03h-7.03zM829.4 782.5h7.03v7.03h-7.03zM618.5 796.6h7.03v7.03h-7.03zM738.0 796.6h7.03v7.03h-7.03zM773.1 796.6h7.03v7.03h-7.03zM723.9 810.7h7.03v7.03h-7.03zM660.6 817.7h7.03v7.03h-7.03zM667.7 817.7h7.03v7.03h-7.03zM695.8 817.7h7.03v7.03h-7.03zM745.0 817.7h7.03v7.03h-7.03zM829.4 824.7h7.03v7.03h-7.03zM723.9 831.8h7.03v7.03h-7.03z" fill="#640000"/>
<path d="M723.9 627.9h7.03v7.03h-7.03zM759.1 627.9h7.03v7.03h-7.03zM808.3 627.9h7.03v7.03h-7.03zM646.6 634.9h7.03v7.03h-7.03zM709.8 634.9h7.03v7.03h-7.03zM716.9 634.9h7.03v7.03h-7.03zM787.2 634.9h7.03v7.03h-7.03zM815.3 634.9h7.03v7.03h-7.03zM794.2 641.9h7.03v7.03h-7.03zM688.8 649.0h7.03v7.03h-7.03zM709.8 649.0h7.03v7.03h-7.03zM653.6 656.0h7.03v7.03h-7.03zM695.8 663.0h7.03v7.03h-7.03zM822.3 663.0h7.03v7.03h-7.03zM787.2 670.1h7.03v7.03h-7.03zM646.6 677.1h7.03v7.03h-7.03zM688.8 677.1h7.03v7.03h-7.03zM695.8 677.1h7.03v7.03h-7.03zM745.0 677.1h7.03v7.03h-7.03zM759.1 677.1h7.03v7.03h-7.03zM625.5 684.1h7.03v7.03h-7.03zM667.7 684.1h7.03v7.03h-7.03zM752.0 684.1h7.03v7.03h-7.03zM822.3 684.1h7.03v7.03h-7.03zM632.5 691.1h7.03v7.03h-7.03zM695.8 691.1h7.03v7.03h-7.03zM808.3 698.2h7.03v7.03h-7.03zM681.7 705.2h7.03v7.03h-7.03zM752.0 705.2h7.03v7.03h-7.03zM759.1 705.2h7.03v7.03h-7.03zM773.1 705.2h7.03v7.03h-7.03zM730.9 712.2h7.03v7.03h-7.03zM752.0 712.2h7.03v7.03h-7.03zM773.1 712.2h7.03v7.03h-7.03zM766.1 719.3h7.03v7.03h-7.03zM787.2 719.3h7.03v7.03h-7.03zM667.7 726.3h7.03v7.03h-7.03zM681.7 726.3h7.03v7.03h-7.03zM618.5 733.3h7.03v7.03h-7.03zM667.7 733.3h7.03v7.03h-7.03zM674.7 733.3h7.03v7.03h-7.03zM730.9 733.3h7.03v7.03h-7.03zM801.2 733.3h7.03v7.03h-7.03zM822.3 733.3h7.03v7.03h-7.03zM745.0 740.4h7.03v7.03h-7.03zM780.1 740.4h7.03v7.03h-7.03zM653.6 747.4h7.03v7.03h-7.03zM773.1 747.4h7.03v7.03h-7.03zM618.5 754.4h7.03v7.03h-7.03zM653.6 754.4h7.03v7.03h-7.03zM716.9 754.4h7.03v7.03h-7.03zM801.2 754.4h7.03v7.03h-7.03zM752.0 761.5h7.03v7.03h-7.03zM808.3 761.5h7.03v7.03h-7.03zM752.0 768.5h7.03v7.03h-7.03zM829.4 768.5h7.03v7.03h-7.03zM759.1 775.5h7.03v7.03h-7.03zM829.4 775.5h7.03v7.03h-7.03zM681.7 782.5h7.03v7.03h-7.03zM766.1 782.5h7.03v7.03h-7.03zM632.5 789.6h7.03v7.03h-7.03zM646.6 789.6h7.03v7.03h-7.03zM660.6 789.6h7.03v7.03h-7.03zM815.3 789.6h7.03v7.03h-7.03zM632.5 796.6h7.03v7.03h-7.03zM667.7 796.6h7.03v7.03h-7.03zM709.8 796.6h7.03v7.03h-7.03zM780.1 796.6h7.03v7.03h-7.03zM808.3 796.6h7.03v7.03h-7.03zM625.5 803.6h7.03v7.03h-7.03zM745.0 803.6h7.03v7.03h-7.03zM808.3 803.6h7.03v7.03h-7.03zM632.5 810.7h7.03v7.03h-7.03zM709.8 810.7h7.03v7.03h-7.03zM787.2 810.7h7.03v7.03h-7.03zM815.3 810.7h7.03v7.03h-7.03zM716.9 817.7h7.03v7.03h-7.03zM738.0 817.7h7.03v7.03h-7.03zM752.0 817.7h7.03v7.03h-7.03zM829.4 817.7h7.03v7.03h-7.03zM745.0 824.7h7.03v7.03h-7.03zM660.6 831.8h7.03v7.03h-7.03z" fill="#550000"/>
<path d="M625.5 634.9h7.03v7.03h-7.03zM639.5 634.9h7.03v7.03h-7.03zM738.0 649.0h7.03v7.03h-7.03zM745.0 663.0h7.03v7.03h-7.03zM660.6 670.1h7.03v7.03h-7.03zM646.6 712.2h7.03v7.03h-7.03zM738.0 726.3h7.03v7.03h-7.03zM773.1 726.3h7.03v7.03h-7.03zM660.6 796.6h7.03v7.03h-7.03zM801.2 796.6h7.03v7.03h-7.03zM787.2 803.6h7.03v7.03h-7.03zM815.3 831.8h7.03v7.03h-7.03z" fill="#800000"/>
<rect x="688.2" y="667.9" width="28.1" height="35.1" fill="#6a0000"/>
<rect x="681.2" y="674.9" width="7.0" height="6.4" fill="#900000"/>
<rect x="688.2" y="674.9" width="7.0" height="6.4" fill="#ff0000"/>
<rect x="688.2" y="681.3" width="7.0" height="6.4" fill="#ff2020"/>
<rect x="695.2" y="674.9" width="7.7" height="6.4" fill="#e00000"/>
<rect x="695.2" y="681.3" width="7.7" height="6.4" fill="#ffd0d0"/>
<rect x="695.2" y="687.7" width="7.7" height="6.4" fill="#e01010"/>
<rect x="695.2" y="694.1" width="7.7" height="3.8" fill="#a00000"/>
<rect x="702.9" y="667.9" width="6.4" height="7.0" fill="#ff9090"/>
<rect x="702.9" y="674.9" width="6.4" height="23.0" fill="#ffffff"/>
<rect x="709.3" y="667.9" width="7.0" height="7.0" fill="#ff7070"/>
<rect x="709.3" y="674.9" width="7.0" height="14.1" fill="#ffa0a0"/>
<rect x="709.3" y="689.0" width="7.0" height="7.7" fill="#ff4040"/>
<rect x="709.3" y="696.7" width="7.0" height="6.4" fill="#c00000"/>
<rect x="695.2" y="697.9" width="7.0" height="6.4" fill="#ffb0b0"/>
<rect x="702.9" y="697.9" width="6.4" height="6.4" fill="#600000"/>
<rect x="702.9" y="704.3" width="6.4" height="7.7" fill="#ff2020"/>
<rect x="702.9" y="712.0" width="6.4" height="7.7" fill="#ff3030"/>
<rect x="672.2" y="681.3" width="7.7" height="6.4" fill="#ff1010"/>
<rect x="665.2" y="660.2" width="7.0" height="5.7" fill="#d00000"/>
<rect x="650.5" y="639.2" width="7.0" height="6.4" fill="#b00000"/>
<rect x="716.3" y="639.2" width="7.0" height="6.4" fill="#c00000"/>
<rect x="631.3" y="676.2" width="5.7" height="5.7" fill="#a00000"/>
<rect x="628.8" y="724.8" width="7.0" height="5.2" fill="#b00000"/>
<rect x="716.3" y="674.9" width="7.0" height="6.4" fill="#b00000"/>
<rect x="681.2" y="681.3" width="7.0" height="6.4" fill="#b00000"/>
<rect x="695.9" y="647.5" width="7.0" height="6.4" fill="#900000"/>
<rect x="637.1" y="653.2" width="14.1" height="6.4" fill="#800000"/>
<rect x="672.2" y="643.0" width="6.4" height="5.7" fill="#900000"/>
<rect x="650.5" y="762.1" width="30.0" height="27.5" fill="#780000"/>
<rect x="650.5" y="769.1" width="7.0" height="6.4" fill="#ffffff"/>
<rect x="657.5" y="776.1" width="14.7" height="6.4" fill="#ffb0b0"/>
<rect x="672.2" y="776.1" width="8.3" height="6.4" fill="#ffd0d0"/>
<rect x="657.5" y="762.1" width="7.0" height="7.0" fill="#ff4040"/>
<rect x="657.5" y="769.1" width="7.0" height="7.0" fill="#ff0000"/>
<rect x="664.5" y="764.6" width="7.7" height="11.5" fill="#e00000"/>
<rect x="672.2" y="769.1" width="7.7" height="7.0" fill="#ff6060"/>
<rect x="650.5" y="783.1" width="7.0" height="6.4" fill="#f00000"/>
<rect x="657.5" y="782.5" width="14.7" height="7.0" fill="#d00000"/>
<rect x="672.2" y="782.5" width="8.3" height="7.0" fill="#ff3030"/>
<rect x="665.2" y="791.4" width="7.0" height="5.1" fill="#ff7070"/>
<rect x="672.2" y="755.0" width="7.7" height="7.0" fill="#c00000"/>
<rect x="658.8" y="748.0" width="13.4" height="7.0" fill="#a00000"/>
<rect x="636.4" y="813.2" width="7.0" height="7.0" fill="#c00000"/>
<rect x="628.8" y="726.3" width="7.7" height="6.4" fill="#e00000"/>
<rect x="716.3" y="733.3" width="7.0" height="6.4" fill="#d00000"/>
<rect x="643.5" y="762.1" width="7.0" height="6.4" fill="#a00000"/>
<rect x="688.8" y="735.2" width="14.1" height="6.4" fill="#a00000"/>
<rect x="695.2" y="762.1" width="7.0" height="6.4" fill="#a00000"/>
<rect x="689.5" y="820.2" width="5.7" height="5.7" fill="#a00000"/>
<rect x="657.5" y="789.5" width="7.7" height="7.0" fill="#900000"/>
<rect x="650.5" y="775.5" width="7.0" height="7.7" fill="#b00000"/>
<rect x="773.1" y="740.3" width="29.4" height="42.2" fill="#780000"/>
<rect x="787.2" y="747.4" width="7.0" height="7.0" fill="#ffffff"/>
<rect x="794.2" y="754.4" width="8.3" height="7.0" fill="#ffffff"/>
<rect x="773.1" y="754.4" width="7.0" height="7.0" fill="#ffffff"/>
<rect x="780.1" y="761.4" width="7.0" height="7.0" fill="#ffffff"/>
<rect x="787.2" y="754.4" width="7.0" height="14.1" fill="#ff9090"/>
<rect x="787.2" y="768.4" width="7.0" height="7.0" fill="#ffb0b0"/>
<rect x="794.2" y="740.3" width="8.3" height="7.0" fill="#ff8080"/>
<rect x="780.1" y="733.3" width="7.0" height="7.0" fill="#ff6060"/>
<rect x="773.1" y="761.4" width="7.0" height="7.0" fill="#ff7070"/>
<rect x="780.1" y="768.4" width="7.0" height="7.0" fill="#ff2020"/>
<rect x="780.1" y="747.4" width="7.0" height="14.1" fill="#ff0000"/>
<rect x="794.2" y="747.4" width="8.3" height="7.0" fill="#e00000"/>
<rect x="773.1" y="747.4" width="7.0" height="7.0" fill="#e00000"/>
<rect x="759.1" y="747.4" width="14.1" height="7.0" fill="#d00000"/>
<rect x="759.1" y="761.4" width="7.0" height="7.0" fill="#d00000"/>
<rect x="759.1" y="768.4" width="7.0" height="7.0" fill="#c00000"/>
<rect x="766.1" y="740.3" width="7.0" height="7.0" fill="#c00000"/>
<rect x="738.0" y="768.4" width="7.0" height="7.0" fill="#e00000"/>
<rect x="745.0" y="761.4" width="7.0" height="14.1" fill="#b00000"/>
<rect x="773.1" y="730.1" width="7.0" height="17.2" fill="#b00000"/>
<rect x="780.1" y="775.5" width="7.0" height="7.0" fill="#e00000"/>
<rect x="802.5" y="768.4" width="7.7" height="14.1" fill="#a00000"/>
<rect x="759.1" y="789.5" width="7.0" height="7.0" fill="#a00000"/>
<rect x="780.1" y="789.5" width="7.0" height="7.0" fill="#a00000"/>
<rect x="787.2" y="820.2" width="7.0" height="7.0" fill="#b00000"/>
<rect x="722.0" y="820.8" width="7.0" height="6.4" fill="#900000"/>
<rect x="766.1" y="754.4" width="7.0" height="14.1" fill="#a00000"/>
<rect x="752.0" y="768.4" width="7.0" height="7.0" fill="#900000"/>
<rect x="757.5" y="625" width="14" height="13" fill="#e00000"/>
<rect x="807.6" y="624" width="11" height="8" fill="#d00000"/>
<rect x="732.4" y="653" width="6.5" height="7" fill="#e00000"/>
<rect x="778" y="627" width="13" height="11" fill="#c00000"/>
<rect x="802" y="652" width="8" height="8" fill="#b00000"/>
</g>
<g clip-path="url(#clipI)"><path d="M605.5 682.2L595.2 694.2M595.2 694.2L579.8 691.3M579.8 691.3L574.5 676.5M610.5 655.5L600.2 667.4M600.2 667.4L584.8 664.5M584.8 664.5L579.5 649.7M615.5 628.7L605.2 640.6M605.2 640.6L589.8 637.7M589.8 637.7L584.6 622.9M620.5 601.9L610.3 613.8M610.3 613.8L594.8 610.9M594.8 610.9L589.6 596.1M606.1 807.1L595.9 819.1M595.9 819.1L580.4 816.2M580.4 816.2L575.2 801.3M611.1 780.3L600.9 792.3M600.9 792.3L585.4 789.4M585.4 789.4L580.2 774.5M616.1 753.6L605.9 765.5M605.9 765.5L590.4 762.6M590.4 762.6L585.2 747.8M621.1 726.8L610.9 738.7M610.9 738.7L595.4 735.8M595.4 735.8L590.2 721.0M626.1 700.0L615.9 711.9M615.9 711.9L600.4 709.0M600.4 709.0L595.2 694.2M631.2 673.2L620.9 685.1M620.9 685.1L605.5 682.2M605.5 682.2L600.2 667.4M636.2 646.4L625.9 658.4M625.9 658.4L610.5 655.5M610.5 655.5L605.2 640.6M641.2 619.6L630.9 631.6M630.9 631.6L615.5 628.7M615.5 628.7L610.3 613.8M621.8 851.6L611.5 863.6M611.5 863.6L596.1 860.7M596.1 860.7L590.8 845.9M626.8 824.9L616.5 836.8M616.5 836.8L601.1 833.9M601.1 833.9L595.9 819.1M631.8 798.1L621.6 810.0M621.6 810.0L606.1 807.1M606.1 807.1L600.9 792.3M636.8 771.3L626.6 783.2M626.6 783.2L611.1 780.3M611.1 780.3L605.9 765.5M641.8 744.5L631.6 756.4M631.6 756.4L616.1 753.6M616.1 753.6L610.9 738.7M646.8 717.7L636.6 729.7M636.6 729.7L621.1 726.8M621.1 726.8L615.9 711.9M651.8 690.9L641.6 702.9M641.6 702.9L626.1 700.0M626.1 700.0L620.9 685.1M656.9 664.1L646.6 676.1M646.6 676.1L631.2 673.2M631.2 673.2L625.9 658.4M661.9 637.4L651.6 649.3M651.6 649.3L636.2 646.4M636.2 646.4L630.9 631.6M666.9 610.6L656.6 622.5M656.6 622.5L641.2 619.6M641.2 619.6L636.0 604.8M647.5 842.6L637.2 854.5M637.2 854.5L621.8 851.6M621.8 851.6L616.5 836.8M652.5 815.8L642.2 827.7M642.2 827.7L626.8 824.9M626.8 824.9L621.6 810.0M657.5 789.0L647.3 801.0M647.3 801.0L631.8 798.1M631.8 798.1L626.6 783.2M662.5 762.2L652.3 774.2M652.3 774.2L636.8 771.3M636.8 771.3L631.6 756.4M667.5 735.4L657.3 747.4M657.3 747.4L641.8 744.5M641.8 744.5L636.6 729.7M672.5 708.7L662.3 720.6M662.3 720.6L646.8 717.7M646.8 717.7L641.6 702.9M677.6 681.9L667.3 693.8M667.3 693.8L651.8 690.9M651.8 690.9L646.6 676.1M682.6 655.1L672.3 667.0M672.3 667.0L656.9 664.1M656.9 664.1L651.6 649.3M687.6 628.3L677.3 640.3M677.3 640.3L661.9 637.4M661.9 637.4L656.6 622.5M692.6 601.5L682.4 613.5M682.4 613.5L666.9 610.6M666.9 610.6L661.7 595.7M668.2 860.3L657.9 872.3M657.9 872.3L642.5 869.4M642.5 869.4L637.2 854.5M673.2 833.5L662.9 845.5M662.9 845.5L647.5 842.6M647.5 842.6L642.2 827.7M678.2 806.8L668.0 818.7M668.0 818.7L652.5 815.8M652.5 815.8L647.3 801.0M683.2 780.0L673.0 791.9M673.0 791.9L657.5 789.0M657.5 789.0L652.3 774.2M688.2 753.2L678.0 765.1M678.0 765.1L662.5 762.2M662.5 762.2L657.3 747.4M693.2 726.4L683.0 738.3M683.0 738.3L667.5 735.4M667.5 735.4L662.3 720.6M698.2 699.6L688.0 711.6M688.0 711.6L672.5 708.7M672.5 708.7L667.3 693.8M703.3 672.8L693.0 684.8M693.0 684.8L677.6 681.9M677.6 681.9L672.3 667.0M708.3 646.0L698.0 658.0M698.0 658.0L682.6 655.1M682.6 655.1L677.3 640.3M713.3 619.3L703.0 631.2M703.0 631.2L687.6 628.3M687.6 628.3L682.4 613.5M693.9 851.3L683.6 863.2M683.6 863.2L668.2 860.3M668.2 860.3L662.9 845.5M698.9 824.5L688.6 836.4M688.6 836.4L673.2 833.5M673.2 833.5L668.0 818.7M703.9 797.7L693.7 809.6M693.7 809.6L678.2 806.8M678.2 806.8L673.0 791.9M708.9 770.9L698.7 782.9M698.7 782.9L683.2 780.0M683.2 780.0L678.0 765.1M713.9 744.1L703.7 756.1M703.7 756.1L688.2 753.2M688.2 753.2L683.0 738.3M718.9 717.3L708.7 729.3M708.7 729.3L693.2 726.4M693.2 726.4L688.0 711.6M723.9 690.6L713.7 702.5M713.7 702.5L698.2 699.6M698.2 699.6L693.0 684.8M729.0 663.8L718.7 675.7M718.7 675.7L703.3 672.8M703.3 672.8L698.0 658.0M734.0 637.0L723.7 648.9M723.7 648.9L708.3 646.0M708.3 646.0L703.0 631.2M739.0 610.2L728.7 622.2M728.7 622.2L713.3 619.3M713.3 619.3L708.1 604.4M719.6 842.2L709.3 854.2M709.3 854.2L693.9 851.3M693.9 851.3L688.6 836.4M724.6 815.4L714.3 827.4M714.3 827.4L698.9 824.5M698.9 824.5L693.7 809.6M729.6 788.6L719.4 800.6M719.4 800.6L703.9 797.7M703.9 797.7L698.7 782.9M734.6 761.9L724.4 773.8M724.4 773.8L708.9 770.9M708.9 770.9L703.7 756.1M739.6 735.1L729.4 747.0M729.4 747.0L713.9 744.1M713.9 744.1L708.7 729.3M744.6 708.3L734.4 720.2M734.4 720.2L718.9 717.3M718.9 717.3L713.7 702.5M749.6 681.5L739.4 693.5M739.4 693.5L723.9 690.6M723.9 690.6L718.7 675.7M754.7 654.7L744.4 666.7M744.4 666.7L729.0 663.8M729.0 663.8L723.7 648.9M759.7 627.9L749.4 639.9M749.4 639.9L734.0 637.0M734.0 637.0L728.7 622.2M764.7 601.2L754.4 613.1M754.4 613.1L739.0 610.2M739.0 610.2L733.8 595.4M740.3 860.0L730.0 871.9M730.0 871.9L714.6 869.0M714.6 869.0L709.3 854.2M745.3 833.2L735.0 845.1M735.0 845.1L719.6 842.2M719.6 842.2L714.3 827.4M750.3 806.4L740.0 818.3M740.0 818.3L724.6 815.4M724.6 815.4L719.4 800.6M755.3 779.6L745.1 791.5M745.1 791.5L729.6 788.6M729.6 788.6L724.4 773.8M760.3 752.8L750.1 764.8M750.1 764.8L734.6 761.9M734.6 761.9L729.4 747.0M765.3 726.0L755.1 738.0M755.1 738.0L739.6 735.1M739.6 735.1L734.4 720.2M770.3 699.2L760.1 711.2M760.1 711.2L744.6 708.3M744.6 708.3L739.4 693.5M775.4 672.5L765.1 684.4M765.1 684.4L749.6 681.5M749.6 681.5L744.4 666.7M780.4 645.7L770.1 657.6M770.1 657.6L754.7 654.7M754.7 654.7L749.4 639.9M785.4 618.9L775.1 630.8M775.1 630.8L759.7 627.9M759.7 627.9L754.4 613.1M766.0 850.9L755.7 862.8M755.7 862.8L740.3 860.0M740.3 860.0L735.0 845.1M771.0 824.1L760.7 836.1M760.7 836.1L745.3 833.2M745.3 833.2L740.0 818.3M776.0 797.3L765.8 809.3M765.8 809.3L750.3 806.4M750.3 806.4L745.1 791.5M781.0 770.5L770.8 782.5M770.8 782.5L755.3 779.6M755.3 779.6L750.1 764.8M786.0 743.8L775.8 755.7M775.8 755.7L760.3 752.8M760.3 752.8L755.1 738.0M791.0 717.0L780.8 728.9M780.8 728.9L765.3 726.0M765.3 726.0L760.1 711.2M796.0 690.2L785.8 702.1M785.8 702.1L770.3 699.2M770.3 699.2L765.1 684.4M801.1 663.4L790.8 675.4M790.8 675.4L775.4 672.5M775.4 672.5L770.1 657.6M806.1 636.6L795.8 648.6M795.8 648.6L780.4 645.7M780.4 645.7L775.1 630.8M811.1 609.8L800.8 621.8M800.8 621.8L785.4 618.9M785.4 618.9L780.1 604.0M791.7 841.9L781.4 853.8M781.4 853.8L766.0 850.9M766.0 850.9L760.7 836.1M796.7 815.1L786.4 827.0M786.4 827.0L771.0 824.1M771.0 824.1L765.8 809.3M801.7 788.3L791.5 800.2M791.5 800.2L776.0 797.3M776.0 797.3L770.8 782.5M806.7 761.5L796.5 773.4M796.5 773.4L781.0 770.5M781.0 770.5L775.8 755.7M811.7 734.7L801.5 746.7M801.5 746.7L786.0 743.8M786.0 743.8L780.8 728.9M816.7 707.9L806.5 719.9M806.5 719.9L791.0 717.0M791.0 717.0L785.8 702.1M821.7 681.1L811.5 693.1M811.5 693.1L796.0 690.2M796.0 690.2L790.8 675.4M826.8 654.4L816.5 666.3M816.5 666.3L801.1 663.4M801.1 663.4L795.8 648.6M831.8 627.6L821.5 639.5M821.5 639.5L806.1 636.6M806.1 636.6L800.8 621.8M836.8 600.8L826.5 612.7M826.5 612.7L811.1 609.8M811.1 609.8L805.9 595.0M812.4 859.6L802.1 871.5M802.1 871.5L786.7 868.6M786.7 868.6L781.4 853.8M817.4 832.8L807.1 844.7M807.1 844.7L791.7 841.9M791.7 841.9L786.4 827.0M822.4 806.0L812.1 818.0M812.1 818.0L796.7 815.1M796.7 815.1L791.5 800.2M827.4 779.2L817.2 791.2M817.2 791.2L801.7 788.3M801.7 788.3L796.5 773.4M832.4 752.4L822.2 764.4M822.2 764.4L806.7 761.5M806.7 761.5L801.5 746.7M837.4 725.7L827.2 737.6M827.2 737.6L811.7 734.7M811.7 734.7L806.5 719.9M842.4 698.9L832.2 710.8M832.2 710.8L816.7 707.9M816.7 707.9L811.5 693.1M847.4 672.1L837.2 684.0M837.2 684.0L821.7 681.1M821.7 681.1L816.5 666.3M852.5 645.3L842.2 657.2M842.2 657.2L826.8 654.4M826.8 654.4L821.5 639.5M857.5 618.5L847.2 630.5M847.2 630.5L831.8 627.6M831.8 627.6L826.5 612.7M838.1 850.5L827.8 862.5M827.8 862.5L812.4 859.6M812.4 859.6L807.1 844.7M843.1 823.7L832.8 835.7M832.8 835.7L817.4 832.8M817.4 832.8L812.1 818.0M848.1 797.0L837.8 808.9M837.8 808.9L822.4 806.0M822.4 806.0L817.2 791.2M853.1 770.2L842.9 782.1M842.9 782.1L827.4 779.2M827.4 779.2L822.2 764.4M858.1 743.4L847.9 755.3M847.9 755.3L832.4 752.4M832.4 752.4L827.2 737.6M863.1 716.6L852.9 728.6M852.9 728.6L837.4 725.7M837.4 725.7L832.2 710.8M868.1 689.8L857.9 701.8M857.9 701.8L842.4 698.9M842.4 698.9L837.2 684.0M863.8 841.5L853.5 853.4M853.5 853.4L838.1 850.5M838.1 850.5L832.8 835.7M868.8 814.7L858.5 826.6M858.5 826.6L843.1 823.7M843.1 823.7L837.8 808.9" fill="none" stroke="#9a9494" stroke-opacity="0.95" stroke-width="1.5"/></g>
<rect x="618.3" y="623.8" width="208.1" height="207.2" fill="none" stroke="#a39d9d" stroke-width="1.8"/>
<rect x="551.3" y="618.2" width="49.2" height="48.6" fill="none" stroke="#a39d9d" stroke-width="1.8"/>
<path d="M600.5 618.2L826.4 623.8M551.3 666.8L618.3 831.0" fill="none" stroke="#a39d9d" stroke-width="1.8"/>
<path d="M635.3 728.0h4v4h-4zM672.5 706.9h4v4h-4zM772.2 671.6h4v4h-4zM757.7 626.1h4v4h-4zM809.6 733.3h4v4h-4zM723.5 772.5h4v4h-4zM820.0 804.3h4v4h-4z" fill="#8c8484"/>
<rect x="121" y="758.5" width="97" height="7.5" fill="#fff"/>
<text x="168.9" y="733.8" font-size="27.6" text-anchor="middle" font-family='"DejaVu Sans", "Liberation Sans", sans-serif' fill="#fff"  >10 <tspan font-style="italic">µ</tspan>m</text>
<rect x="53.0" y="58.0" width="784.5" height="784.0" fill="none" stroke="#000" stroke-width="2"/>
<rect x="854.6" y="57.0" width="25.600000000000023" height="786.0" fill="url(#cbA)"/>
<rect x="855.6" y="58.0" width="23.600000000000023" height="784.0" fill="none" stroke="#000" stroke-width="2"/>
<rect x="879.2" y="56.90" width="8.2" height="1.8" fill="#000"/>
<text x="896.8" y="68.5" font-size="30" text-anchor="start" font-family='"Liberation Sans", Arial, sans-serif' fill="#000" stroke="#000" stroke-width="0.45" stroke-linejoin="round" >2500</text>
<rect x="879.2" y="213.80" width="8.2" height="1.8" fill="#000"/>
<text x="896.8" y="225.4" font-size="30" text-anchor="start" font-family='"Liberation Sans", Arial, sans-serif' fill="#000" stroke="#000" stroke-width="0.45" stroke-linejoin="round" >2000</text>
<rect x="879.2" y="370.70" width="8.2" height="1.8" fill="#000"/>
<text x="896.8" y="382.3" font-size="30" text-anchor="start" font-family='"Liberation Sans", Arial, sans-serif' fill="#000" stroke="#000" stroke-width="0.45" stroke-linejoin="round" >1500</text>
<rect x="879.2" y="527.60" width="8.2" height="1.8" fill="#000"/>
<text x="896.8" y="539.2" font-size="30" text-anchor="start" font-family='"Liberation Sans", Arial, sans-serif' fill="#000" stroke="#000" stroke-width="0.45" stroke-linejoin="round" >1000</text>
<rect x="879.2" y="684.50" width="8.2" height="1.8" fill="#000"/>
<text x="896.8" y="696.1" font-size="30" text-anchor="start" font-family='"Liberation Sans", Arial, sans-serif' fill="#000" stroke="#000" stroke-width="0.45" stroke-linejoin="round" >500</text>
<rect x="879.2" y="841.40" width="8.2" height="1.8" fill="#000"/>
<text x="896.8" y="853.0" font-size="30" text-anchor="start" font-family='"Liberation Sans", Arial, sans-serif' fill="#000" stroke="#000" stroke-width="0.45" stroke-linejoin="round" >0</text>
<text transform="translate(1017.4,431.7) rotate(-90)" font-size="34.5" text-anchor="middle" font-family='"Liberation Sans", Arial, sans-serif' fill="#000" stroke="#000" stroke-width="0.45" stroke-linejoin="round">Count (arb. u.)</text>
<text x="-3.4" y="32.6" font-size="45.3" text-anchor="start" font-family='"Liberation Sans", Arial, sans-serif' fill="#000" stroke="#000" stroke-width="0.45" stroke-linejoin="round" >(a)</text>
<clipPath id="clipB"><rect x="1258.0" y="20" width="314.09999999999997" height="317.6"/></clipPath>
<g fill="none" stroke="#ff0000" stroke-width="2.15" clip-path="url(#clipB)"><circle cx="1258.0" cy="67.9" r="3.8"/><circle cx="1270.8" cy="72.7" r="3.8"/><circle cx="1276.0" cy="77.9" r="3.8"/><circle cx="1283.5" cy="90.2" r="3.8"/><circle cx="1286.5" cy="96.2" r="3.8"/><circle cx="1294.1" cy="110.8" r="3.8"/><circle cx="1296.3" cy="115.4" r="3.8"/><circle cx="1298.3" cy="119.8" r="3.8"/><circle cx="1304.0" cy="135.4" r="3.8"/><circle cx="1309.0" cy="148.4" r="3.8"/><circle cx="1310.6" cy="151.1" r="3.8"/><circle cx="1312.1" cy="155.3" r="3.8"/><circle cx="1315.0" cy="162.3" r="3.8"/><circle cx="1321.8" cy="180.6" r="3.8"/><circle cx="1323.0" cy="184.7" r="3.8"/><circle cx="1326.7" cy="194.3" r="3.8"/><circle cx="1330.1" cy="200.9" r="3.8"/><circle cx="1332.4" cy="208.7" r="3.8"/><circle cx="1334.5" cy="214.6" r="3.8"/><circle cx="1335.6" cy="217.5" r="3.8"/><circle cx="1338.7" cy="224.1" r="3.8"/><circle cx="1339.7" cy="226.5" r="3.8"/><circle cx="1343.6" cy="235.9" r="3.8"/><circle cx="1347.3" cy="244.0" r="3.8"/><circle cx="1348.2" cy="245.7" r="3.8"/><circle cx="1350.0" cy="249.1" r="3.8"/><circle cx="1350.9" cy="250.6" r="3.8"/><circle cx="1355.1" cy="259.7" r="3.8"/><circle cx="1357.6" cy="265.7" r="3.8"/><circle cx="1360.0" cy="268.2" r="3.8"/><circle cx="1360.8" cy="271.1" r="3.8"/><circle cx="1363.2" cy="274.1" r="3.8"/><circle cx="1366.2" cy="279.8" r="3.8"/><circle cx="1367.0" cy="279.9" r="3.8"/><circle cx="1367.7" cy="281.6" r="3.8"/><circle cx="1372.1" cy="286.9" r="3.8"/><circle cx="1372.8" cy="285.6" r="3.8"/><circle cx="1373.5" cy="289.0" r="3.8"/><circle cx="1375.6" cy="290.9" r="3.8"/><circle cx="1378.3" cy="295.7" r="3.8"/><circle cx="1379.0" cy="295.7" r="3.8"/><circle cx="1383.6" cy="299.5" r="3.8"/><circle cx="1384.3" cy="300.9" r="3.8"/><circle cx="1385.5" cy="301.6" r="3.8"/><circle cx="1386.2" cy="302.5" r="3.8"/><circle cx="1388.1" cy="305.4" r="3.8"/><circle cx="1389.3" cy="304.7" r="3.8"/><circle cx="1391.2" cy="307.7" r="3.8"/><circle cx="1393.6" cy="306.6" r="3.8"/><circle cx="1395.4" cy="310.5" r="3.8"/><circle cx="1396.0" cy="309.6" r="3.8"/><circle cx="1398.3" cy="311.8" r="3.8"/><circle cx="1398.9" cy="311.2" r="3.8"/><circle cx="1400.6" cy="313.9" r="3.8"/><circle cx="1402.3" cy="313.1" r="3.8"/><circle cx="1403.4" cy="314.9" r="3.8"/><circle cx="1406.7" cy="315.1" r="3.8"/><circle cx="1407.3" cy="316.0" r="3.8"/><circle cx="1411.0" cy="318.2" r="3.8"/><circle cx="1411.6" cy="319.4" r="3.8"/><circle cx="1412.1" cy="317.9" r="3.8"/><circle cx="1413.2" cy="318.6" r="3.8"/><circle cx="1413.7" cy="317.5" r="3.8"/><circle cx="1415.8" cy="320.5" r="3.8"/><circle cx="1417.8" cy="320.1" r="3.8"/><circle cx="1419.3" cy="320.7" r="3.8"/><circle cx="1420.3" cy="321.2" r="3.8"/><circle cx="1421.3" cy="321.6" r="3.8"/><circle cx="1423.8" cy="322.2" r="3.8"/><circle cx="1424.3" cy="323.2" r="3.8"/><circle cx="1425.8" cy="324.0" r="3.8"/><circle cx="1428.2" cy="323.9" r="3.8"/><circle cx="1429.1" cy="323.0" r="3.8"/><circle cx="1429.6" cy="322.1" r="3.8"/><circle cx="1431.5" cy="323.0" r="3.8"/><circle cx="1435.2" cy="323.6" r="3.8"/><circle cx="1435.6" cy="324.0" r="3.8"/><circle cx="1436.6" cy="324.2" r="3.8"/><circle cx="1437.0" cy="324.8" r="3.8"/><circle cx="1438.4" cy="324.4" r="3.8"/><circle cx="1439.3" cy="323.4" r="3.8"/><circle cx="1440.6" cy="325.9" r="3.8"/><circle cx="1441.9" cy="326.5" r="3.8"/><circle cx="1443.7" cy="323.7" r="3.8"/><circle cx="1446.3" cy="325.9" r="3.8"/><circle cx="1447.6" cy="325.2" r="3.8"/><circle cx="1449.3" cy="325.5" r="3.8"/><circle cx="1449.7" cy="327.8" r="3.8"/><circle cx="1451.0" cy="324.0" r="3.8"/><circle cx="1452.3" cy="324.8" r="3.8"/><circle cx="1452.7" cy="326.6" r="3.8"/><circle cx="1453.1" cy="326.0" r="3.8"/><circle cx="1456.0" cy="326.9" r="3.8"/><circle cx="1456.4" cy="328.0" r="3.8"/><circle cx="1457.2" cy="327.2" r="3.8"/><circle cx="1457.6" cy="326.7" r="3.8"/><circle cx="1459.7" cy="326.0" r="3.8"/><circle cx="1462.1" cy="326.6" r="3.8"/><circle cx="1462.5" cy="327.4" r="3.8"/><circle cx="1463.7" cy="326.0" r="3.8"/><circle cx="1464.0" cy="328.3" r="3.8"/><circle cx="1465.6" cy="326.7" r="3.8"/><circle cx="1467.2" cy="326.4" r="3.8"/><circle cx="1468.3" cy="328.0" r="3.8"/><circle cx="1469.1" cy="329.7" r="3.8"/><circle cx="1470.3" cy="328.8" r="3.8"/><circle cx="1471.8" cy="327.6" r="3.8"/><circle cx="1474.4" cy="327.4" r="3.8"/><circle cx="1474.8" cy="326.3" r="3.8"/><circle cx="1475.2" cy="329.1" r="3.8"/><circle cx="1475.9" cy="328.0" r="3.8"/><circle cx="1476.3" cy="327.3" r="3.8"/><circle cx="1477.4" cy="328.3" r="3.8"/><circle cx="1478.2" cy="330.7" r="3.8"/><circle cx="1480.7" cy="327.3" r="3.8"/><circle cx="1481.1" cy="325.7" r="3.8"/><circle cx="1483.6" cy="327.2" r="3.8"/><circle cx="1484.0" cy="329.3" r="3.8"/><circle cx="1485.1" cy="328.8" r="3.8"/><circle cx="1486.2" cy="328.1" r="3.8"/><circle cx="1487.6" cy="325.7" r="3.8"/><circle cx="1487.9" cy="327.7" r="3.8"/><circle cx="1489.0" cy="328.3" r="3.8"/><circle cx="1490.7" cy="326.8" r="3.8"/><circle cx="1492.1" cy="328.6" r="3.8"/><circle cx="1492.5" cy="326.5" r="3.8"/><circle cx="1493.2" cy="329.3" r="3.8"/><circle cx="1495.2" cy="329.1" r="3.8"/><circle cx="1496.3" cy="327.8" r="3.8"/><circle cx="1497.6" cy="327.1" r="3.8"/><circle cx="1498.6" cy="327.9" r="3.8"/><circle cx="1500.0" cy="328.4" r="3.8"/><circle cx="1500.3" cy="330.7" r="3.8"/><circle cx="1500.7" cy="329.5" r="3.8"/><circle cx="1501.7" cy="329.4" r="3.8"/><circle cx="1503.0" cy="329.3" r="3.8"/><circle cx="1503.3" cy="328.1" r="3.8"/><circle cx="1504.3" cy="329.1" r="3.8"/><circle cx="1505.6" cy="327.9" r="3.8"/><circle cx="1508.6" cy="328.8" r="3.8"/><circle cx="1509.2" cy="329.2" r="3.8"/><circle cx="1509.5" cy="328.7" r="3.8"/><circle cx="1510.5" cy="328.4" r="3.8"/><circle cx="1511.2" cy="328.0" r="3.8"/><circle cx="1512.1" cy="329.4" r="3.8"/><circle cx="1513.1" cy="329.2" r="3.8"/><circle cx="1513.4" cy="330.4" r="3.8"/><circle cx="1514.4" cy="327.2" r="3.8"/><circle cx="1514.7" cy="327.4" r="3.8"/><circle cx="1515.9" cy="329.2" r="3.8"/><circle cx="1516.3" cy="329.5" r="3.8"/><circle cx="1518.1" cy="330.4" r="3.8"/><circle cx="1519.7" cy="328.9" r="3.8"/><circle cx="1520.6" cy="328.8" r="3.8"/><circle cx="1520.9" cy="326.7" r="3.8"/><circle cx="1523.4" cy="328.8" r="3.8"/><circle cx="1524.3" cy="330.0" r="3.8"/><circle cx="1525.8" cy="331.8" r="3.8"/><circle cx="1526.1" cy="327.6" r="3.8"/><circle cx="1527.0" cy="328.9" r="3.8"/><circle cx="1528.3" cy="330.9" r="3.8"/><circle cx="1528.6" cy="329.0" r="3.8"/><circle cx="1529.2" cy="331.0" r="3.8"/><circle cx="1530.7" cy="325.4" r="3.8"/><circle cx="1530.9" cy="328.0" r="3.8"/><circle cx="1531.8" cy="328.6" r="3.8"/><circle cx="1532.7" cy="329.4" r="3.8"/><circle cx="1533.3" cy="331.6" r="3.8"/><circle cx="1533.9" cy="329.4" r="3.8"/><circle cx="1536.6" cy="331.0" r="3.8"/><circle cx="1537.7" cy="328.6" r="3.8"/><circle cx="1538.0" cy="331.7" r="3.8"/><circle cx="1538.6" cy="330.3" r="3.8"/><circle cx="1538.9" cy="328.0" r="3.8"/><circle cx="1539.7" cy="327.5" r="3.8"/><circle cx="1540.3" cy="330.6" r="3.8"/><circle cx="1541.2" cy="331.0" r="3.8"/><circle cx="1543.2" cy="328.4" r="3.8"/><circle cx="1544.6" cy="328.5" r="3.8"/><circle cx="1545.7" cy="330.5" r="3.8"/><circle cx="1546.6" cy="330.2" r="3.8"/><circle cx="1547.2" cy="330.2" r="3.8"/><circle cx="1548.8" cy="330.7" r="3.8"/><circle cx="1549.1" cy="330.2" r="3.8"/><circle cx="1549.4" cy="328.1" r="3.8"/><circle cx="1551.3" cy="328.7" r="3.8"/><circle cx="1551.6" cy="327.2" r="3.8"/><circle cx="1552.5" cy="329.6" r="3.8"/><circle cx="1553.8" cy="329.6" r="3.8"/><circle cx="1554.7" cy="330.6" r="3.8"/><circle cx="1555.5" cy="329.6" r="3.8"/><circle cx="1555.7" cy="331.0" r="3.8"/><circle cx="1556.6" cy="331.5" r="3.8"/><circle cx="1556.8" cy="328.8" r="3.8"/><circle cx="1558.2" cy="328.0" r="3.8"/><circle cx="1559.0" cy="328.6" r="3.8"/><circle cx="1560.4" cy="328.1" r="3.8"/><circle cx="1561.2" cy="329.3" r="3.8"/><circle cx="1562.2" cy="330.4" r="3.8"/><circle cx="1564.1" cy="329.5" r="3.8"/><circle cx="1564.4" cy="330.0" r="3.8"/><circle cx="1564.6" cy="330.8" r="3.8"/><circle cx="1565.2" cy="331.5" r="3.8"/><circle cx="1566.2" cy="331.2" r="3.8"/><circle cx="1566.5" cy="329.6" r="3.8"/><circle cx="1566.7" cy="329.5" r="3.8"/><circle cx="1568.3" cy="330.2" r="3.8"/><circle cx="1568.6" cy="328.1" r="3.8"/><circle cx="1569.4" cy="329.5" r="3.8"/></g>
<polyline points="1258.0,62.3 1259.6,62.4 1261.1,62.7 1262.7,63.2 1264.3,63.8 1265.8,64.7 1267.4,65.7 1268.9,66.9 1270.5,68.3 1272.1,69.9 1273.6,71.6 1275.2,73.5 1276.8,75.6 1278.3,77.8 1279.9,80.2 1281.4,82.7 1283.0,85.4 1284.6,88.3 1286.1,91.2 1287.7,94.3 1289.3,97.5 1290.8,100.9 1292.4,104.3 1293.9,107.9 1295.5,111.5 1297.1,115.2 1298.6,119.1 1300.2,123.0 1301.8,126.9 1303.3,131.0 1304.9,135.0 1306.5,139.2 1308.0,143.3 1309.6,147.6 1311.1,151.8 1312.7,156.1 1314.3,160.3 1315.8,164.6 1317.4,168.9 1319.0,173.2 1320.5,177.5 1322.1,181.7 1323.6,186.0 1325.2,190.2 1326.8,194.4 1328.3,198.5 1329.9,202.6 1331.5,206.7 1333.0,210.7 1334.6,214.6 1336.2,218.5 1337.7,222.4 1339.3,226.2 1340.8,229.9 1342.4,233.5 1344.0,237.1 1345.5,240.6 1347.1,244.0 1348.7,247.3 1350.2,250.6 1351.8,253.8 1353.3,256.9 1354.9,259.9 1356.5,262.8 1358.0,265.7 1359.6,268.4 1361.2,271.1 1362.7,273.7 1364.3,276.2 1365.8,278.7 1367.4,281.0 1369.0,283.3 1370.5,285.5 1372.1,287.6 1373.7,289.6 1375.2,291.6 1376.8,293.5 1378.4,295.3 1379.9,297.0 1381.5,298.6 1383.0,300.2 1384.6,301.8 1386.2,303.2 1387.7,304.6 1389.3,305.9 1390.9,307.2 1392.4,308.4 1394.0,309.6 1395.5,310.7 1397.1,311.7 1398.7,312.7 1400.2,313.6 1401.8,314.5 1403.4,315.4 1404.9,316.2 1406.5,316.9 1408.0,317.7 1409.6,318.4 1411.2,319.0 1412.7,319.6 1414.3,320.2 1415.9,320.7 1417.4,321.2 1419.0,321.7 1420.6,322.2 1422.1,322.6 1423.7,323.0 1425.2,323.4 1426.8,323.8 1428.4,324.1 1429.9,324.4 1431.5,324.7 1433.1,325.0 1434.6,325.3 1436.2,325.5 1437.7,325.7 1439.3,326.0 1440.9,326.2 1442.4,326.4 1444.0,326.5 1445.6,326.7 1447.1,326.9 1448.7,327.0 1450.2,327.2 1451.8,327.3 1453.4,327.4 1454.9,327.5 1456.5,327.7 1458.1,327.8 1459.6,327.9 1461.2,328.0 1462.8,328.0 1464.3,328.1 1465.9,328.2 1467.4,328.3 1469.0,328.4 1470.6,328.4 1472.1,328.5 1473.7,328.6 1475.3,328.6 1476.8,328.7 1478.4,328.7 1479.9,328.8 1481.5,328.8 1483.1,328.9 1484.6,328.9 1486.2,329.0 1487.8,329.0 1489.3,329.0 1490.9,329.1 1492.5,329.1 1494.0,329.2 1495.6,329.2 1497.1,329.2 1498.7,329.3 1500.3,329.3 1501.8,329.3 1503.4,329.4 1505.0,329.4 1506.5,329.4 1508.1,329.5 1509.6,329.5 1511.2,329.5 1512.8,329.5 1514.3,329.6 1515.9,329.6 1517.5,329.6 1519.0,329.6 1520.6,329.7 1522.1,329.7 1523.7,329.7 1525.3,329.7 1526.8,329.8 1528.4,329.8 1530.0,329.8 1531.5,329.8 1533.1,329.9 1534.7,329.9 1536.2,329.9 1537.8,329.9 1539.3,329.9 1540.9,330.0 1542.5,330.0 1544.0,330.0 1545.6,330.0 1547.2,330.0 1548.7,330.0 1550.3,330.1 1551.8,330.1 1553.4,330.1 1555.0,330.1 1556.5,330.1 1558.1,330.1 1559.7,330.2 1561.2,330.2 1562.8,330.2 1564.3,330.2 1565.9,330.2 1567.5,330.2 1569.0,330.3 1570.6,330.3" fill="none" stroke="#0000ff" stroke-width="2.6" stroke-linejoin="round"/>
<path d="M1258.0 31.7V337.6H1571.3" fill="none" stroke="#000" stroke-width="1.5"/>
<rect x="1258.0" y="336.85" width="7" height="1.5" fill="#000"/>
<text x="1243.8" y="347.5" font-size="27" text-anchor="end" font-family='"Liberation Sans", Arial, sans-serif' fill="#000" stroke="#000" stroke-width="0.45" stroke-linejoin="round" >0</text>
<rect x="1258.0" y="275.81" width="7" height="1.5" fill="#000"/>
<text x="1247.6" y="286.46" font-size="27" text-anchor="end" font-family='"Liberation Sans", Arial, sans-serif' fill="#000" stroke="#000" stroke-width="0.45" stroke-linejoin="round" >500</text>
<rect x="1258.0" y="214.77" width="7" height="1.5" fill="#000"/>
<text x="1247.6" y="225.42" font-size="27" text-anchor="end" font-family='"Liberation Sans", Arial, sans-serif' fill="#000" stroke="#000" stroke-width="0.45" stroke-linejoin="round" >1000</text>
<rect x="1258.0" y="153.73" width="7" height="1.5" fill="#000"/>
<text x="1247.6" y="164.38" font-size="27" text-anchor="end" font-family='"Liberation Sans", Arial, sans-serif' fill="#000" stroke="#000" stroke-width="0.45" stroke-linejoin="round" >1500</text>
<rect x="1258.0" y="92.69" width="7" height="1.5" fill="#000"/>
<text x="1247.6" y="103.34" font-size="27" text-anchor="end" font-family='"Liberation Sans", Arial, sans-serif' fill="#000" stroke="#000" stroke-width="0.45" stroke-linejoin="round" >2000</text>
<rect x="1258.0" y="31.65" width="7" height="1.5" fill="#000"/>
<text x="1247.6" y="42.3" font-size="27" text-anchor="end" font-family='"Liberation Sans", Arial, sans-serif' fill="#000" stroke="#000" stroke-width="0.45" stroke-linejoin="round" >2500</text>
<rect x="1257.25" y="330.6" width="1.5" height="7" fill="#000"/>
<text x="1258.0" y="371.0" font-size="27" text-anchor="middle" font-family='"Liberation Sans", Arial, sans-serif' fill="#000" stroke="#000" stroke-width="0.45" stroke-linejoin="round" >0</text>
<rect x="1361.45" y="330.6" width="1.5" height="7" fill="#000"/>
<text x="1364.2" y="371.0" font-size="27" text-anchor="middle" font-family='"Liberation Sans", Arial, sans-serif' fill="#000" stroke="#000" stroke-width="0.45" stroke-linejoin="round" >0.5</text>
<rect x="1465.65" y="330.6" width="1.5" height="7" fill="#000"/>
<text x="1468.4" y="371.0" font-size="27" text-anchor="middle" font-family='"Liberation Sans", Arial, sans-serif' fill="#000" stroke="#000" stroke-width="0.45" stroke-linejoin="round" >1.0</text>
<rect x="1569.85" y="330.6" width="1.5" height="7" fill="#000"/>
<text x="1572.6" y="371.0" font-size="27" text-anchor="middle" font-family='"Liberation Sans", Arial, sans-serif' fill="#000" stroke="#000" stroke-width="0.45" stroke-linejoin="round" >1.5</text>
<text x="1423.3" y="413.4" font-size="30.3" text-anchor="middle" font-family='"Liberation Sans", Arial, sans-serif' fill="#000" stroke="#000" stroke-width="0.45" stroke-linejoin="round" >Radius (µm)</text>
<text transform="translate(1169.3,191) rotate(-90)" font-size="30" text-anchor="middle" font-family='"Liberation Sans", Arial, sans-serif' fill="#000" stroke="#000" stroke-width="0.45" stroke-linejoin="round">Count (arb. u.)</text>
<text x="1073.4" y="32.4" font-size="45.3" text-anchor="start" font-family='"Liberation Sans", Arial, sans-serif' fill="#000" stroke="#000" stroke-width="0.45" stroke-linejoin="round" >(b)</text>
<clipPath id="clipP"><rect x="1388.3" y="64.4" width="162.7" height="162.7"/></clipPath>
<rect x="1388.3" y="64.4" width="162.7" height="162.7" fill="#3d0000"/>
<g clip-path="url(#clipP)" shape-rendering="crispEdges">
<path d="M1393 67h155v4h-155zM1393 71h155v3h-155zM1393 74h155v3h-155zM1393 77h155v4h-155zM1393 81h155v3h-155zM1393 84h155v3h-155zM1393 87h155v3h-155zM1393 90h155v4h-155zM1393 94h155v3h-155zM1393 97h66v3h-66zM1482 97h66v3h-66zM1393 100h56v4h-56zM1492 100h56v4h-56zM1393 104h53v3h-53zM1495 104h53v3h-53zM1393 107h46v3h-46zM1502 107h46v3h-46zM1393 110h43v4h-43zM1505 110h43v4h-43zM1393 114h39v3h-39zM1508 114h40v3h-40zM1393 117h39v3h-39zM1508 117h40v3h-40zM1393 120h36v3h-36zM1512 120h36v3h-36zM1393 123h33v4h-33zM1515 123h33v4h-33zM1393 127h33v3h-33zM1515 127h33v3h-33zM1393 130h33v3h-33zM1515 130h33v3h-33zM1393 133h30v4h-30zM1518 133h30v4h-30zM1393 137h30v3h-30zM1518 137h30v3h-30zM1393 140h30v3h-30zM1518 140h30v3h-30zM1393 143h30v4h-30zM1518 143h30v4h-30zM1393 147h30v3h-30zM1518 147h30v3h-30zM1393 150h30v3h-30zM1518 150h30v3h-30zM1393 153h30v3h-30zM1518 153h30v3h-30zM1393 156h33v4h-33zM1515 156h33v4h-33zM1393 160h33v3h-33zM1515 160h33v3h-33zM1393 163h33v3h-33zM1515 163h33v3h-33zM1393 166h36v4h-36zM1512 166h36v4h-36zM1393 170h39v3h-39zM1508 170h40v3h-40zM1393 173h39v3h-39zM1508 173h40v3h-40zM1393 176h43v4h-43zM1505 176h43v4h-43zM1393 180h46v3h-46zM1502 180h46v3h-46zM1393 183h53v3h-53zM1495 183h53v3h-53zM1393 186h56v3h-56zM1492 186h56v3h-56zM1393 189h66v4h-66zM1482 189h66v4h-66zM1393 193h155v3h-155zM1393 196h155v3h-155zM1393 199h155v4h-155zM1393 203h155v3h-155zM1393 206h155v3h-155zM1393 209h155v4h-155zM1393 213h155v3h-155zM1393 216h155v3h-155zM1393 219h155v3h-155z" fill="#3f0000"/>
<path d="M1459 97h23v3h-23zM1449 100h43v4h-43zM1446 104h13v3h-13zM1482 104h13v3h-13zM1439 107h10v3h-10zM1492 107h10v3h-10zM1436 110h10v4h-10zM1495 110h10v4h-10zM1432 114h10v3h-10zM1498 114h10v3h-10zM1432 117h7v3h-7zM1502 117h6v3h-6zM1429 120h7v3h-7zM1505 120h7v3h-7zM1426 123h6v4h-6zM1508 123h7v4h-7zM1426 127h6v3h-6zM1508 127h7v3h-7zM1426 130h6v3h-6zM1508 130h7v3h-7zM1423 133h6v4h-6zM1512 133h6v4h-6zM1423 137h6v3h-6zM1512 137h6v3h-6zM1423 140h6v3h-6zM1512 140h6v3h-6zM1423 143h6v4h-6zM1512 143h6v4h-6zM1423 147h6v3h-6zM1512 147h6v3h-6zM1423 150h6v3h-6zM1512 150h6v3h-6zM1423 153h6v3h-6zM1512 153h6v3h-6zM1426 156h6v4h-6zM1508 156h7v4h-7zM1426 160h6v3h-6zM1508 160h7v3h-7zM1426 163h6v3h-6zM1508 163h7v3h-7zM1429 166h7v4h-7zM1505 166h7v4h-7zM1432 170h7v3h-7zM1502 170h6v3h-6zM1432 173h10v3h-10zM1498 173h10v3h-10zM1436 176h10v4h-10zM1495 176h10v4h-10zM1439 180h10v3h-10zM1492 180h10v3h-10zM1446 183h13v3h-13zM1482 183h13v3h-13zM1449 186h43v3h-43zM1459 189h23v4h-23z" fill="#450000"/>
<path d="M1459 104h23v3h-23zM1449 107h10v3h-10zM1482 107h10v3h-10zM1446 110h6v4h-6zM1489 110h6v4h-6zM1442 114h4v3h-4zM1495 114h3v3h-3zM1439 117h3v3h-3zM1498 117h4v3h-4zM1436 120h3v3h-3zM1502 120h3v3h-3zM1432 123h7v4h-7zM1502 123h6v4h-6zM1432 127h4v3h-4zM1505 127h3v3h-3zM1432 130h4v3h-4zM1505 130h3v3h-3zM1429 133h3v4h-3zM1508 133h4v4h-4zM1429 137h3v3h-3zM1508 137h4v3h-4zM1429 140h3v3h-3zM1508 140h4v3h-4zM1429 143h3v4h-3zM1508 143h4v4h-4zM1429 147h3v3h-3zM1508 147h4v3h-4zM1429 150h3v3h-3zM1508 150h4v3h-4zM1429 153h3v3h-3zM1508 153h4v3h-4zM1432 156h4v4h-4zM1505 156h3v4h-3zM1432 160h4v3h-4zM1505 160h3v3h-3zM1432 163h7v3h-7zM1502 163h6v3h-6zM1436 166h3v4h-3zM1502 166h3v4h-3zM1439 170h3v3h-3zM1498 170h4v3h-4zM1442 173h4v3h-4zM1495 173h3v3h-3zM1446 176h6v4h-6zM1489 176h6v4h-6zM1449 180h10v3h-10zM1482 180h10v3h-10zM1459 183h23v3h-23z" fill="#4b0000"/>
<path d="M1459 107h23v3h-23zM1452 110h4v4h-4zM1485 110h4v4h-4zM1446 114h3v3h-3zM1492 114h3v3h-3zM1442 117h4v3h-4zM1495 117h3v3h-3zM1439 120h3v3h-3zM1498 120h4v3h-4zM1436 127h3v3h-3zM1502 127h3v3h-3zM1432 133h4v4h-4zM1505 133h3v4h-3zM1432 137h4v3h-4zM1505 137h3v3h-3zM1432 140h4v3h-4zM1505 140h3v3h-3zM1432 143h4v4h-4zM1505 143h3v4h-3zM1432 147h4v3h-4zM1505 147h3v3h-3zM1432 150h4v3h-4zM1505 150h3v3h-3zM1432 153h4v3h-4zM1505 153h3v3h-3zM1436 160h3v3h-3zM1502 160h3v3h-3zM1439 166h3v4h-3zM1498 166h4v4h-4zM1442 170h4v3h-4zM1495 170h3v3h-3zM1446 173h3v3h-3zM1492 173h3v3h-3zM1452 176h4v4h-4zM1485 176h4v4h-4zM1459 180h23v3h-23z" fill="#510000"/>
<path d="M1456 110h3v4h-3zM1482 110h3v4h-3zM1449 114h3v3h-3zM1489 114h3v3h-3zM1446 117h3v3h-3zM1492 117h3v3h-3zM1442 120h4v3h-4zM1495 120h3v3h-3zM1439 123h3v4h-3zM1498 123h4v4h-4zM1436 130h3v3h-3zM1502 130h3v3h-3zM1436 156h3v4h-3zM1502 156h3v4h-3zM1439 163h3v3h-3zM1498 163h4v3h-4zM1442 166h4v4h-4zM1495 166h3v4h-3zM1446 170h3v3h-3zM1492 170h3v3h-3zM1449 173h3v3h-3zM1489 173h3v3h-3zM1456 176h3v4h-3zM1482 176h3v4h-3z" fill="#570000"/>
<path d="M1459 110h10v4h-10zM1472 110h10v4h-10zM1452 114h4v3h-4zM1485 114h4v3h-4zM1439 127h3v3h-3zM1498 127h4v3h-4zM1436 133h3v4h-3zM1502 133h3v4h-3zM1436 137h3v3h-3zM1502 137h3v3h-3zM1436 140h3v3h-3zM1502 140h3v3h-3zM1436 147h3v3h-3zM1502 147h3v3h-3zM1436 150h3v3h-3zM1502 150h3v3h-3zM1436 153h3v3h-3zM1502 153h3v3h-3zM1439 160h3v3h-3zM1498 160h4v3h-4zM1452 173h4v3h-4zM1485 173h4v3h-4zM1459 176h10v4h-10zM1472 176h10v4h-10z" fill="#5d0000"/>
<path d="M1469 110h3v4h-3zM1456 114h3v3h-3zM1482 114h3v3h-3zM1449 117h3v3h-3zM1489 117h3v3h-3zM1446 120h3v3h-3zM1492 120h3v3h-3zM1442 123h4v4h-4zM1495 123h3v4h-3zM1439 130h3v3h-3zM1498 130h4v3h-4zM1436 143h3v4h-3zM1502 143h3v4h-3zM1439 156h3v4h-3zM1498 156h4v4h-4zM1442 163h4v3h-4zM1495 163h3v3h-3zM1446 166h3v4h-3zM1492 166h3v4h-3zM1449 170h3v3h-3zM1489 170h3v3h-3zM1456 173h3v3h-3zM1482 173h3v3h-3zM1469 176h3v4h-3z" fill="#630000"/>
<path d="M1459 114h3v3h-3zM1479 114h3v3h-3zM1452 117h4v3h-4zM1485 117h4v3h-4zM1442 127h4v3h-4zM1495 127h3v3h-3zM1439 133h3v4h-3zM1498 133h4v4h-4zM1439 153h3v3h-3zM1498 153h4v3h-4zM1442 160h4v3h-4zM1495 160h3v3h-3zM1452 170h4v3h-4zM1485 170h4v3h-4zM1459 173h3v3h-3zM1479 173h3v3h-3z" fill="#690000"/>
<path d="M1462 114h7v3h-7zM1472 114h7v3h-7zM1449 120h3v3h-3zM1489 120h3v3h-3zM1446 123h3v4h-3zM1492 123h3v4h-3zM1439 137h3v3h-3zM1498 137h4v3h-4zM1439 140h3v3h-3zM1498 140h4v3h-4zM1439 147h3v3h-3zM1498 147h4v3h-4zM1439 150h3v3h-3zM1498 150h4v3h-4zM1446 163h3v3h-3zM1492 163h3v3h-3zM1449 166h3v4h-3zM1489 166h3v4h-3zM1462 173h7v3h-7zM1472 173h7v3h-7z" fill="#6f0000"/>
<path d="M1469 114h3v3h-3zM1456 117h3v3h-3zM1482 117h3v3h-3zM1442 130h4v3h-4zM1495 130h3v3h-3zM1439 143h3v4h-3zM1498 143h4v4h-4zM1442 156h4v4h-4zM1495 156h3v4h-3zM1456 170h3v3h-3zM1482 170h3v3h-3zM1469 173h3v3h-3z" fill="#750000"/>
<path d="M1459 117h3v3h-3zM1479 117h3v3h-3zM1452 120h4v3h-4zM1485 120h4v3h-4zM1446 127h3v3h-3zM1492 127h3v3h-3zM1442 133h4v4h-4zM1495 133h3v4h-3zM1442 153h4v3h-4zM1495 153h3v3h-3zM1446 160h3v3h-3zM1492 160h3v3h-3zM1452 166h4v4h-4zM1485 166h4v4h-4zM1459 170h3v3h-3zM1479 170h3v3h-3z" fill="#7b0000"/>
<path d="M1449 123h3v4h-3zM1489 123h3v4h-3zM1449 163h3v3h-3zM1489 163h3v3h-3z" fill="#810000"/>
<path d="M1462 117h7v3h-7zM1472 117h7v3h-7zM1456 120h3v3h-3zM1482 120h3v3h-3zM1446 130h3v3h-3zM1492 130h3v3h-3zM1442 137h4v3h-4zM1495 137h3v3h-3zM1442 140h4v3h-4zM1495 140h3v3h-3zM1442 147h4v3h-4zM1495 147h3v3h-3zM1442 150h4v3h-4zM1495 150h3v3h-3zM1446 156h3v4h-3zM1492 156h3v4h-3zM1456 166h3v4h-3zM1482 166h3v4h-3zM1462 170h7v3h-7zM1472 170h7v3h-7z" fill="#870000"/>
<path d="M1469 117h3v3h-3zM1442 143h4v4h-4zM1495 143h3v4h-3zM1469 170h3v3h-3z" fill="#8d0000"/>
<path d="M1452 123h4v4h-4zM1485 123h4v4h-4zM1449 127h3v3h-3zM1489 127h3v3h-3zM1449 160h3v3h-3zM1489 160h3v3h-3zM1452 163h4v3h-4zM1485 163h4v3h-4z" fill="#930000"/>
<path d="M1459 120h3v3h-3zM1479 120h3v3h-3zM1446 133h3v4h-3zM1492 133h3v4h-3zM1446 153h3v3h-3zM1492 153h3v3h-3zM1459 166h3v4h-3zM1479 166h3v4h-3z" fill="#990000"/>
<path d="M1462 120h3v3h-3zM1475 120h4v3h-4zM1456 123h3v4h-3zM1482 123h3v4h-3zM1449 130h3v3h-3zM1489 130h3v3h-3zM1446 137h3v3h-3zM1492 137h3v3h-3zM1446 150h3v3h-3zM1492 150h3v3h-3zM1449 156h3v4h-3zM1489 156h3v4h-3zM1456 163h3v3h-3zM1482 163h3v3h-3zM1462 166h3v4h-3zM1475 166h4v4h-4z" fill="#a50000"/>
<path d="M1465 120h10v3h-10zM1452 127h4v3h-4zM1485 127h4v3h-4zM1446 140h3v3h-3zM1492 140h3v3h-3zM1446 143h3v4h-3zM1492 143h3v4h-3zM1446 147h3v3h-3zM1492 147h3v3h-3zM1452 160h4v3h-4zM1485 160h4v3h-4zM1465 166h10v4h-10z" fill="#ab0000"/>
<path d="M1459 123h3v4h-3zM1479 123h3v4h-3zM1449 133h3v4h-3zM1489 133h3v4h-3zM1449 153h3v3h-3zM1489 153h3v3h-3zM1459 163h3v3h-3zM1479 163h3v3h-3z" fill="#b70000"/>
<path d="M1462 123h3v4h-3zM1475 123h4v4h-4zM1456 127h3v3h-3zM1482 127h3v3h-3zM1452 130h4v3h-4zM1485 130h4v3h-4zM1449 137h3v3h-3zM1489 137h3v3h-3zM1449 150h3v3h-3zM1489 150h3v3h-3zM1452 156h4v4h-4zM1485 156h4v4h-4zM1456 160h3v3h-3zM1482 160h3v3h-3zM1462 163h3v3h-3zM1475 163h4v3h-4z" fill="#c30000"/>
<path d="M1465 123h4v4h-4zM1472 123h3v4h-3zM1449 140h3v3h-3zM1489 140h3v3h-3zM1449 147h3v3h-3zM1489 147h3v3h-3zM1465 163h4v3h-4zM1472 163h3v3h-3z" fill="#cf0000"/>
<path d="M1469 123h3v4h-3zM1449 143h3v4h-3zM1489 143h3v4h-3zM1469 163h3v3h-3z" fill="#d50000"/>
<path d="M1459 127h3v3h-3zM1479 127h3v3h-3zM1452 133h4v4h-4zM1485 133h4v4h-4zM1452 153h4v3h-4zM1485 153h4v3h-4zM1459 160h3v3h-3zM1479 160h3v3h-3z" fill="#db0000"/>
<path d="M1456 130h3v3h-3zM1482 130h3v3h-3zM1456 156h3v4h-3zM1482 156h3v4h-3z" fill="#e10000"/>
<path d="M1462 127h3v3h-3zM1475 127h4v3h-4zM1452 137h4v3h-4zM1485 137h4v3h-4zM1452 150h4v3h-4zM1485 150h4v3h-4zM1462 160h3v3h-3zM1475 160h4v3h-4z" fill="#ed0000"/>
<path d="M1465 127h4v3h-4zM1472 127h3v3h-3zM1452 140h4v3h-4zM1485 140h4v3h-4zM1452 147h4v3h-4zM1485 147h4v3h-4zM1465 160h4v3h-4zM1472 160h3v3h-3z" fill="#f90000"/>
<path d="M1469 127h3v3h-3zM1459 130h3v3h-3zM1479 130h3v3h-3zM1456 133h3v4h-3zM1482 133h3v4h-3zM1452 143h4v4h-4zM1485 143h4v4h-4zM1456 153h3v3h-3zM1482 153h3v3h-3zM1459 156h3v4h-3zM1479 156h3v4h-3zM1469 160h3v3h-3z" fill="#ff0000"/>
<path d="M1462 130h3v3h-3zM1475 130h4v3h-4zM1456 137h3v3h-3zM1482 137h3v3h-3zM1456 150h3v3h-3zM1482 150h3v3h-3zM1462 156h3v4h-3zM1475 156h4v4h-4z" fill="#ff1818"/>
<path d="M1459 133h3v4h-3zM1479 133h3v4h-3zM1459 153h3v3h-3zM1479 153h3v3h-3z" fill="#ff2828"/>
<path d="M1465 130h4v3h-4zM1472 130h3v3h-3zM1456 140h3v3h-3zM1482 140h3v3h-3zM1456 147h3v3h-3zM1482 147h3v3h-3zM1465 156h4v4h-4zM1472 156h3v4h-3z" fill="#ff3030"/>
<path d="M1469 130h3v3h-3zM1456 143h3v4h-3zM1482 143h3v4h-3zM1469 156h3v4h-3z" fill="#ff3838"/>
<path d="M1462 133h3v4h-3zM1475 133h4v4h-4zM1459 137h3v3h-3zM1479 137h3v3h-3zM1459 150h3v3h-3zM1479 150h3v3h-3zM1462 153h3v3h-3zM1475 153h4v3h-4z" fill="#ff4848"/>
<path d="M1465 133h4v4h-4zM1472 133h3v4h-3zM1459 140h3v3h-3zM1479 140h3v3h-3zM1459 147h3v3h-3zM1479 147h3v3h-3zM1465 153h4v3h-4zM1472 153h3v3h-3z" fill="#ff6060"/>
<path d="M1469 133h3v4h-3zM1459 143h3v4h-3zM1479 143h3v4h-3zM1469 153h3v3h-3z" fill="#ff6868"/>
<path d="M1462 137h3v3h-3zM1475 137h4v3h-4zM1462 150h3v3h-3zM1475 150h4v3h-4z" fill="#ff7070"/>
<path d="M1465 137h4v3h-4zM1472 137h3v3h-3zM1462 140h3v3h-3zM1475 140h4v3h-4zM1462 147h3v3h-3zM1475 147h4v3h-4zM1465 150h4v3h-4zM1472 150h3v3h-3z" fill="#ff9090"/>
<path d="M1469 137h3v3h-3zM1462 143h3v4h-3zM1475 143h4v4h-4zM1469 150h3v3h-3z" fill="#ff9898"/>
<path d="M1465 140h4v3h-4zM1472 140h3v3h-3zM1465 147h4v3h-4zM1472 147h3v3h-3z" fill="#ffa8a8"/>
<path d="M1469 140h3v3h-3zM1465 143h10v4h-10zM1469 147h3v3h-3z" fill="#ffb8b8"/>
</g>
<rect x="1388.8" y="64.9" width="161.7" height="161.7" fill="none" stroke="#000" stroke-width="1"/>
<rect x="1438.4" y="211.6" width="62.6" height="3.5" fill="#fff"/>
<text x="1469.7" y="203.9" font-size="21.8" text-anchor="middle" font-family='"DejaVu Sans", "Liberation Sans", sans-serif' fill="#fff"  >1 <tspan font-style="italic">µ</tspan>m</text>
<clipPath id="clipC"><rect x="1148.0" y="491.2" width="351.4000000000001" height="351.40000000000003"/></clipPath>
<linearGradient id="cbC" x1="0" y1="1" x2="0" y2="0"><stop offset="0" stop-color="#ffffff"/><stop offset="0.5" stop-color="#5555ff"/><stop offset="1" stop-color="#00dd00"/></linearGradient>
<rect x="1148.0" y="491.2" width="351.4000000000001" height="351.40000000000003" fill="#d3d3ff"/>
<g clip-path="url(#clipC)" shape-rendering="crispEdges">
<path d="M1154.3 486.7h10.0v10.0h-10.0zM1244.3 486.7h10.0v10.0h-10.0zM1424.3 496.7h10.0v10.0h-10.0zM1324.3 506.7h10.0v10.0h-10.0zM1194.3 516.7h20.0v10.0h-20.0zM1354.3 516.7h10.0v10.0h-10.0zM1194.3 526.7h10.0v10.0h-10.0zM1314.3 526.7h10.0v10.0h-10.0zM1474.3 526.7h10.0v10.0h-10.0zM1294.3 536.7h10.0v10.0h-10.0zM1314.3 546.7h10.0v10.0h-10.0zM1394.3 546.7h10.0v10.0h-10.0zM1154.3 556.7h10.0v10.0h-10.0zM1244.3 556.7h10.0v10.0h-10.0zM1314.3 556.7h20.0v10.0h-20.0zM1364.3 556.7h10.0v10.0h-10.0zM1154.3 566.7h10.0v10.0h-10.0zM1414.3 566.7h10.0v10.0h-10.0zM1304.3 576.7h10.0v10.0h-10.0zM1354.3 576.7h10.0v10.0h-10.0zM1294.3 586.7h10.0v10.0h-10.0zM1434.3 586.7h10.0v10.0h-10.0zM1364.3 596.7h10.0v10.0h-10.0zM1194.3 606.7h10.0v10.0h-10.0zM1234.3 606.7h10.0v10.0h-10.0zM1244.3 616.7h10.0v10.0h-10.0zM1184.3 626.7h10.0v10.0h-10.0zM1244.3 626.7h10.0v10.0h-10.0zM1304.3 626.7h10.0v10.0h-10.0zM1404.3 626.7h10.0v10.0h-10.0zM1144.3 636.7h10.0v10.0h-10.0zM1174.3 636.7h20.0v10.0h-20.0zM1334.3 636.7h10.0v10.0h-10.0zM1184.3 646.7h10.0v10.0h-10.0zM1254.3 646.7h10.0v10.0h-10.0zM1284.3 646.7h10.0v10.0h-10.0zM1444.3 646.7h10.0v10.0h-10.0zM1464.3 646.7h10.0v10.0h-10.0zM1294.3 656.7h10.0v10.0h-10.0zM1344.3 656.7h10.0v10.0h-10.0zM1434.3 656.7h10.0v10.0h-10.0zM1184.3 666.7h20.0v10.0h-20.0zM1354.3 666.7h10.0v10.0h-10.0zM1374.3 666.7h10.0v10.0h-10.0zM1404.3 666.7h10.0v10.0h-10.0zM1454.3 676.7h20.0v10.0h-20.0zM1144.3 686.7h10.0v10.0h-10.0zM1244.3 686.7h10.0v10.0h-10.0zM1284.3 686.7h10.0v10.0h-10.0zM1324.3 686.7h10.0v10.0h-10.0zM1394.3 686.7h10.0v10.0h-10.0zM1464.3 686.7h10.0v10.0h-10.0zM1164.3 696.7h10.0v10.0h-10.0zM1324.3 696.7h10.0v10.0h-10.0zM1234.3 706.7h20.0v10.0h-20.0zM1414.3 706.7h10.0v10.0h-10.0zM1174.3 726.7h10.0v10.0h-10.0zM1224.3 726.7h10.0v10.0h-10.0zM1274.3 726.7h10.0v10.0h-10.0zM1334.3 726.7h30.0v10.0h-30.0zM1224.3 736.7h10.0v10.0h-10.0zM1444.3 736.7h10.0v10.0h-10.0zM1214.3 746.7h10.0v10.0h-10.0zM1274.3 746.7h30.0v10.0h-30.0zM1444.3 746.7h10.0v10.0h-10.0zM1154.3 756.7h10.0v10.0h-10.0zM1314.3 756.7h10.0v10.0h-10.0zM1484.3 756.7h10.0v10.0h-10.0zM1164.3 766.7h10.0v10.0h-10.0zM1234.3 766.7h10.0v10.0h-10.0zM1324.3 766.7h10.0v10.0h-10.0zM1434.3 766.7h10.0v10.0h-10.0zM1484.3 766.7h10.0v10.0h-10.0zM1234.3 776.7h10.0v10.0h-10.0zM1414.3 776.7h10.0v10.0h-10.0zM1254.3 786.7h20.0v10.0h-20.0zM1374.3 796.7h10.0v10.0h-10.0zM1204.3 806.7h10.0v10.0h-10.0zM1314.3 806.7h10.0v10.0h-10.0zM1144.3 816.7h10.0v10.0h-10.0zM1314.3 816.7h10.0v10.0h-10.0zM1424.3 816.7h10.0v10.0h-10.0zM1394.3 826.7h10.0v10.0h-10.0zM1254.3 836.7h10.0v10.0h-10.0z" fill="#ffffff"/>
<path d="M1214.3 486.7h10.0v10.0h-10.0zM1234.3 486.7h10.0v10.0h-10.0zM1264.3 486.7h10.0v10.0h-10.0zM1314.3 486.7h20.0v10.0h-20.0zM1384.3 486.7h20.0v10.0h-20.0zM1414.3 486.7h30.0v10.0h-30.0zM1484.3 486.7h10.0v10.0h-10.0zM1164.3 496.7h20.0v10.0h-20.0zM1204.3 496.7h20.0v10.0h-20.0zM1254.3 496.7h10.0v10.0h-10.0zM1324.3 496.7h30.0v10.0h-30.0zM1374.3 496.7h10.0v10.0h-10.0zM1414.3 496.7h10.0v10.0h-10.0zM1434.3 496.7h10.0v10.0h-10.0zM1484.3 496.7h10.0v10.0h-10.0zM1154.3 506.7h30.0v10.0h-30.0zM1194.3 506.7h20.0v10.0h-20.0zM1264.3 506.7h10.0v10.0h-10.0zM1334.3 506.7h10.0v10.0h-10.0zM1364.3 506.7h20.0v10.0h-20.0zM1424.3 506.7h30.0v10.0h-30.0zM1494.3 506.7h10.0v10.0h-10.0zM1264.3 516.7h10.0v10.0h-10.0zM1314.3 516.7h10.0v10.0h-10.0zM1364.3 516.7h10.0v10.0h-10.0zM1424.3 516.7h10.0v10.0h-10.0zM1444.3 516.7h30.0v10.0h-30.0zM1264.3 526.7h20.0v10.0h-20.0zM1294.3 526.7h20.0v10.0h-20.0zM1364.3 526.7h10.0v10.0h-10.0zM1384.3 526.7h10.0v10.0h-10.0zM1414.3 526.7h60.0v10.0h-60.0zM1214.3 536.7h10.0v10.0h-10.0zM1264.3 536.7h10.0v10.0h-10.0zM1304.3 536.7h10.0v10.0h-10.0zM1364.3 536.7h60.0v10.0h-60.0zM1434.3 536.7h50.0v10.0h-50.0zM1144.3 546.7h10.0v10.0h-10.0zM1214.3 546.7h20.0v10.0h-20.0zM1244.3 546.7h20.0v10.0h-20.0zM1364.3 546.7h10.0v10.0h-10.0zM1384.3 546.7h10.0v10.0h-10.0zM1404.3 546.7h30.0v10.0h-30.0zM1464.3 546.7h30.0v10.0h-30.0zM1144.3 556.7h10.0v10.0h-10.0zM1234.3 556.7h10.0v10.0h-10.0zM1254.3 556.7h10.0v10.0h-10.0zM1334.3 556.7h10.0v10.0h-10.0zM1384.3 556.7h60.0v10.0h-60.0zM1454.3 556.7h50.0v10.0h-50.0zM1164.3 566.7h10.0v10.0h-10.0zM1244.3 566.7h10.0v10.0h-10.0zM1314.3 566.7h40.0v10.0h-40.0zM1424.3 566.7h10.0v10.0h-10.0zM1474.3 566.7h20.0v10.0h-20.0zM1144.3 576.7h10.0v10.0h-10.0zM1184.3 576.7h20.0v10.0h-20.0zM1264.3 576.7h20.0v10.0h-20.0zM1294.3 576.7h10.0v10.0h-10.0zM1344.3 576.7h10.0v10.0h-10.0zM1414.3 576.7h20.0v10.0h-20.0zM1464.3 576.7h20.0v10.0h-20.0zM1144.3 586.7h10.0v10.0h-10.0zM1184.3 586.7h20.0v10.0h-20.0zM1254.3 586.7h40.0v10.0h-40.0zM1304.3 586.7h10.0v10.0h-10.0zM1364.3 586.7h10.0v10.0h-10.0zM1414.3 586.7h20.0v10.0h-20.0zM1454.3 586.7h10.0v10.0h-10.0zM1194.3 596.7h30.0v10.0h-30.0zM1254.3 596.7h10.0v10.0h-10.0zM1294.3 596.7h10.0v10.0h-10.0zM1354.3 596.7h10.0v10.0h-10.0zM1374.3 596.7h10.0v10.0h-10.0zM1414.3 596.7h10.0v10.0h-10.0zM1244.3 606.7h10.0v10.0h-10.0zM1294.3 606.7h10.0v10.0h-10.0zM1354.3 606.7h40.0v10.0h-40.0zM1144.3 616.7h10.0v10.0h-10.0zM1184.3 616.7h10.0v10.0h-10.0zM1204.3 616.7h40.0v10.0h-40.0zM1304.3 616.7h20.0v10.0h-20.0zM1354.3 616.7h10.0v10.0h-10.0zM1374.3 616.7h10.0v10.0h-10.0zM1404.3 616.7h10.0v10.0h-10.0zM1144.3 626.7h40.0v10.0h-40.0zM1234.3 626.7h10.0v10.0h-10.0zM1294.3 626.7h10.0v10.0h-10.0zM1324.3 626.7h10.0v10.0h-10.0zM1474.3 626.7h20.0v10.0h-20.0zM1154.3 636.7h20.0v10.0h-20.0zM1234.3 636.7h30.0v10.0h-30.0zM1304.3 636.7h10.0v10.0h-10.0zM1344.3 636.7h10.0v10.0h-10.0zM1404.3 636.7h20.0v10.0h-20.0zM1454.3 636.7h20.0v10.0h-20.0zM1484.3 636.7h10.0v10.0h-10.0zM1244.3 646.7h10.0v10.0h-10.0zM1264.3 646.7h10.0v10.0h-10.0zM1354.3 646.7h10.0v10.0h-10.0zM1404.3 646.7h20.0v10.0h-20.0zM1454.3 646.7h10.0v10.0h-10.0zM1184.3 656.7h10.0v10.0h-10.0zM1204.3 656.7h10.0v10.0h-10.0zM1234.3 656.7h60.0v10.0h-60.0zM1404.3 656.7h20.0v10.0h-20.0zM1444.3 656.7h20.0v10.0h-20.0zM1174.3 666.7h10.0v10.0h-10.0zM1204.3 666.7h20.0v10.0h-20.0zM1284.3 666.7h10.0v10.0h-10.0zM1364.3 666.7h10.0v10.0h-10.0zM1384.3 666.7h20.0v10.0h-20.0zM1444.3 666.7h20.0v10.0h-20.0zM1184.3 676.7h20.0v10.0h-20.0zM1224.3 676.7h20.0v10.0h-20.0zM1294.3 676.7h10.0v10.0h-10.0zM1314.3 676.7h10.0v10.0h-10.0zM1334.3 676.7h20.0v10.0h-20.0zM1364.3 676.7h20.0v10.0h-20.0zM1474.3 676.7h10.0v10.0h-10.0zM1154.3 686.7h10.0v10.0h-10.0zM1174.3 686.7h10.0v10.0h-10.0zM1234.3 686.7h10.0v10.0h-10.0zM1294.3 686.7h30.0v10.0h-30.0zM1334.3 686.7h20.0v10.0h-20.0zM1384.3 686.7h10.0v10.0h-10.0zM1454.3 686.7h10.0v10.0h-10.0zM1494.3 686.7h10.0v10.0h-10.0zM1144.3 696.7h20.0v10.0h-20.0zM1234.3 696.7h10.0v10.0h-10.0zM1284.3 696.7h20.0v10.0h-20.0zM1314.3 696.7h10.0v10.0h-10.0zM1334.3 696.7h20.0v10.0h-20.0zM1394.3 696.7h20.0v10.0h-20.0zM1464.3 696.7h20.0v10.0h-20.0zM1174.3 706.7h10.0v10.0h-10.0zM1254.3 706.7h40.0v10.0h-40.0zM1324.3 706.7h20.0v10.0h-20.0zM1394.3 706.7h20.0v10.0h-20.0zM1424.3 706.7h20.0v10.0h-20.0zM1164.3 716.7h20.0v10.0h-20.0zM1234.3 716.7h20.0v10.0h-20.0zM1274.3 716.7h20.0v10.0h-20.0zM1334.3 716.7h20.0v10.0h-20.0zM1384.3 716.7h10.0v10.0h-10.0zM1424.3 716.7h30.0v10.0h-30.0zM1494.3 716.7h10.0v10.0h-10.0zM1184.3 726.7h10.0v10.0h-10.0zM1204.3 726.7h20.0v10.0h-20.0zM1264.3 726.7h10.0v10.0h-10.0zM1364.3 726.7h10.0v10.0h-10.0zM1384.3 726.7h10.0v10.0h-10.0zM1434.3 726.7h20.0v10.0h-20.0zM1214.3 736.7h10.0v10.0h-10.0zM1274.3 736.7h10.0v10.0h-10.0zM1324.3 736.7h10.0v10.0h-10.0zM1344.3 736.7h20.0v10.0h-20.0zM1374.3 736.7h20.0v10.0h-20.0zM1454.3 736.7h10.0v10.0h-10.0zM1144.3 746.7h10.0v10.0h-10.0zM1164.3 746.7h10.0v10.0h-10.0zM1304.3 746.7h10.0v10.0h-10.0zM1324.3 746.7h10.0v10.0h-10.0zM1454.3 746.7h10.0v10.0h-10.0zM1484.3 746.7h10.0v10.0h-10.0zM1144.3 756.7h10.0v10.0h-10.0zM1164.3 756.7h10.0v10.0h-10.0zM1214.3 756.7h10.0v10.0h-10.0zM1264.3 756.7h20.0v10.0h-20.0zM1374.3 756.7h30.0v10.0h-30.0zM1474.3 756.7h10.0v10.0h-10.0zM1144.3 766.7h20.0v10.0h-20.0zM1224.3 766.7h10.0v10.0h-10.0zM1244.3 766.7h30.0v10.0h-30.0zM1314.3 766.7h10.0v10.0h-10.0zM1374.3 766.7h40.0v10.0h-40.0zM1474.3 766.7h10.0v10.0h-10.0zM1494.3 766.7h10.0v10.0h-10.0zM1144.3 776.7h20.0v10.0h-20.0zM1224.3 776.7h10.0v10.0h-10.0zM1244.3 776.7h10.0v10.0h-10.0zM1264.3 776.7h10.0v10.0h-10.0zM1324.3 776.7h20.0v10.0h-20.0zM1384.3 776.7h30.0v10.0h-30.0zM1424.3 776.7h20.0v10.0h-20.0zM1494.3 776.7h10.0v10.0h-10.0zM1154.3 786.7h30.0v10.0h-30.0zM1214.3 786.7h10.0v10.0h-10.0zM1244.3 786.7h10.0v10.0h-10.0zM1324.3 786.7h30.0v10.0h-30.0zM1374.3 786.7h10.0v10.0h-10.0zM1414.3 786.7h10.0v10.0h-10.0zM1434.3 786.7h10.0v10.0h-10.0zM1494.3 786.7h10.0v10.0h-10.0zM1154.3 796.7h30.0v10.0h-30.0zM1204.3 796.7h20.0v10.0h-20.0zM1274.3 796.7h20.0v10.0h-20.0zM1354.3 796.7h20.0v10.0h-20.0zM1424.3 796.7h20.0v10.0h-20.0zM1494.3 796.7h10.0v10.0h-10.0zM1154.3 806.7h10.0v10.0h-10.0zM1274.3 806.7h40.0v10.0h-40.0zM1324.3 806.7h10.0v10.0h-10.0zM1364.3 806.7h20.0v10.0h-20.0zM1434.3 806.7h30.0v10.0h-30.0zM1474.3 806.7h30.0v10.0h-30.0zM1204.3 816.7h10.0v10.0h-10.0zM1254.3 816.7h60.0v10.0h-60.0zM1364.3 816.7h20.0v10.0h-20.0zM1434.3 816.7h60.0v10.0h-60.0zM1144.3 826.7h20.0v10.0h-20.0zM1204.3 826.7h30.0v10.0h-30.0zM1254.3 826.7h30.0v10.0h-30.0zM1304.3 826.7h20.0v10.0h-20.0zM1384.3 826.7h10.0v10.0h-10.0zM1424.3 826.7h10.0v10.0h-10.0zM1464.3 826.7h20.0v10.0h-20.0zM1144.3 836.7h10.0v10.0h-10.0zM1164.3 836.7h10.0v10.0h-10.0zM1204.3 836.7h30.0v10.0h-30.0zM1244.3 836.7h10.0v10.0h-10.0zM1314.3 836.7h20.0v10.0h-20.0zM1364.3 836.7h50.0v10.0h-50.0zM1424.3 836.7h10.0v10.0h-10.0z" fill="#ebebff"/>
<path d="M1174.3 486.7h10.0v10.0h-10.0zM1404.3 486.7h10.0v10.0h-10.0zM1194.3 496.7h10.0v10.0h-10.0zM1224.3 496.7h30.0v10.0h-30.0zM1274.3 496.7h10.0v10.0h-10.0zM1314.3 496.7h10.0v10.0h-10.0zM1354.3 496.7h10.0v10.0h-10.0zM1394.3 496.7h10.0v10.0h-10.0zM1144.3 506.7h10.0v10.0h-10.0zM1284.3 506.7h10.0v10.0h-10.0zM1314.3 506.7h10.0v10.0h-10.0zM1454.3 506.7h10.0v10.0h-10.0zM1474.3 506.7h10.0v10.0h-10.0zM1184.3 516.7h10.0v10.0h-10.0zM1254.3 516.7h10.0v10.0h-10.0zM1284.3 516.7h10.0v10.0h-10.0zM1344.3 516.7h10.0v10.0h-10.0zM1374.3 516.7h10.0v10.0h-10.0zM1484.3 516.7h10.0v10.0h-10.0zM1144.3 526.7h20.0v10.0h-20.0zM1204.3 526.7h20.0v10.0h-20.0zM1254.3 526.7h10.0v10.0h-10.0zM1324.3 526.7h10.0v10.0h-10.0zM1354.3 526.7h10.0v10.0h-10.0zM1494.3 526.7h10.0v10.0h-10.0zM1154.3 536.7h10.0v10.0h-10.0zM1194.3 536.7h10.0v10.0h-10.0zM1224.3 536.7h10.0v10.0h-10.0zM1274.3 536.7h20.0v10.0h-20.0zM1324.3 536.7h10.0v10.0h-10.0zM1294.3 546.7h10.0v10.0h-10.0zM1164.3 556.7h10.0v10.0h-10.0zM1214.3 556.7h20.0v10.0h-20.0zM1264.3 556.7h10.0v10.0h-10.0zM1304.3 556.7h10.0v10.0h-10.0zM1374.3 556.7h10.0v10.0h-10.0zM1174.3 566.7h10.0v10.0h-10.0zM1204.3 566.7h10.0v10.0h-10.0zM1274.3 566.7h10.0v10.0h-10.0zM1304.3 566.7h10.0v10.0h-10.0zM1354.3 566.7h10.0v10.0h-10.0zM1394.3 566.7h20.0v10.0h-20.0zM1434.3 566.7h10.0v10.0h-10.0zM1464.3 566.7h10.0v10.0h-10.0zM1444.3 576.7h20.0v10.0h-20.0zM1494.3 576.7h10.0v10.0h-10.0zM1154.3 586.7h10.0v10.0h-10.0zM1174.3 586.7h10.0v10.0h-10.0zM1204.3 586.7h10.0v10.0h-10.0zM1314.3 586.7h10.0v10.0h-10.0zM1374.3 586.7h10.0v10.0h-10.0zM1404.3 586.7h10.0v10.0h-10.0zM1144.3 596.7h10.0v10.0h-10.0zM1184.3 596.7h10.0v10.0h-10.0zM1264.3 596.7h10.0v10.0h-10.0zM1314.3 596.7h10.0v10.0h-10.0zM1344.3 596.7h10.0v10.0h-10.0zM1434.3 596.7h10.0v10.0h-10.0zM1464.3 596.7h10.0v10.0h-10.0zM1284.3 606.7h10.0v10.0h-10.0zM1424.3 606.7h10.0v10.0h-10.0zM1444.3 606.7h10.0v10.0h-10.0zM1154.3 616.7h10.0v10.0h-10.0zM1254.3 616.7h10.0v10.0h-10.0zM1334.3 616.7h20.0v10.0h-20.0zM1454.3 616.7h10.0v10.0h-10.0zM1214.3 626.7h10.0v10.0h-10.0zM1254.3 626.7h10.0v10.0h-10.0zM1384.3 626.7h10.0v10.0h-10.0zM1414.3 626.7h10.0v10.0h-10.0zM1454.3 626.7h10.0v10.0h-10.0zM1194.3 636.7h10.0v10.0h-10.0zM1264.3 636.7h10.0v10.0h-10.0zM1284.3 636.7h10.0v10.0h-10.0zM1364.3 636.7h10.0v10.0h-10.0zM1424.3 636.7h20.0v10.0h-20.0zM1474.3 636.7h10.0v10.0h-10.0zM1494.3 636.7h10.0v10.0h-10.0zM1144.3 646.7h10.0v10.0h-10.0zM1164.3 646.7h20.0v10.0h-20.0zM1334.3 646.7h10.0v10.0h-10.0zM1364.3 646.7h10.0v10.0h-10.0zM1174.3 656.7h10.0v10.0h-10.0zM1214.3 656.7h10.0v10.0h-10.0zM1384.3 656.7h20.0v10.0h-20.0zM1424.3 656.7h10.0v10.0h-10.0zM1224.3 666.7h30.0v10.0h-30.0zM1274.3 666.7h10.0v10.0h-10.0zM1294.3 666.7h10.0v10.0h-10.0zM1344.3 666.7h10.0v10.0h-10.0zM1414.3 666.7h10.0v10.0h-10.0zM1434.3 666.7h10.0v10.0h-10.0zM1494.3 666.7h10.0v10.0h-10.0zM1404.3 676.7h10.0v10.0h-10.0zM1484.3 676.7h10.0v10.0h-10.0zM1194.3 686.7h20.0v10.0h-20.0zM1354.3 686.7h10.0v10.0h-10.0zM1374.3 686.7h10.0v10.0h-10.0zM1404.3 686.7h10.0v10.0h-10.0zM1414.3 696.7h20.0v10.0h-20.0zM1454.3 696.7h10.0v10.0h-10.0zM1144.3 706.7h10.0v10.0h-10.0zM1224.3 706.7h10.0v10.0h-10.0zM1294.3 706.7h10.0v10.0h-10.0zM1384.3 706.7h10.0v10.0h-10.0zM1454.3 706.7h10.0v10.0h-10.0zM1254.3 716.7h10.0v10.0h-10.0zM1294.3 716.7h10.0v10.0h-10.0zM1374.3 716.7h10.0v10.0h-10.0zM1404.3 716.7h10.0v10.0h-10.0zM1154.3 726.7h10.0v10.0h-10.0zM1294.3 726.7h10.0v10.0h-10.0zM1424.3 726.7h10.0v10.0h-10.0zM1494.3 726.7h10.0v10.0h-10.0zM1154.3 736.7h20.0v10.0h-20.0zM1184.3 736.7h10.0v10.0h-10.0zM1234.3 736.7h10.0v10.0h-10.0zM1264.3 736.7h10.0v10.0h-10.0zM1394.3 736.7h10.0v10.0h-10.0zM1464.3 736.7h10.0v10.0h-10.0zM1484.3 736.7h10.0v10.0h-10.0zM1154.3 746.7h10.0v10.0h-10.0zM1184.3 746.7h10.0v10.0h-10.0zM1334.3 746.7h20.0v10.0h-20.0zM1364.3 746.7h20.0v10.0h-20.0zM1204.3 756.7h10.0v10.0h-10.0zM1244.3 756.7h10.0v10.0h-10.0zM1284.3 756.7h10.0v10.0h-10.0zM1304.3 756.7h10.0v10.0h-10.0zM1324.3 756.7h10.0v10.0h-10.0zM1414.3 756.7h20.0v10.0h-20.0zM1304.3 766.7h10.0v10.0h-10.0zM1444.3 766.7h30.0v10.0h-30.0zM1204.3 776.7h10.0v10.0h-10.0zM1274.3 776.7h10.0v10.0h-10.0zM1344.3 776.7h20.0v10.0h-20.0zM1374.3 776.7h10.0v10.0h-10.0zM1184.3 786.7h10.0v10.0h-10.0zM1234.3 786.7h10.0v10.0h-10.0zM1274.3 786.7h10.0v10.0h-10.0zM1314.3 786.7h10.0v10.0h-10.0zM1394.3 786.7h20.0v10.0h-20.0zM1444.3 786.7h10.0v10.0h-10.0zM1144.3 796.7h10.0v10.0h-10.0zM1184.3 796.7h10.0v10.0h-10.0zM1254.3 796.7h10.0v10.0h-10.0zM1304.3 796.7h10.0v10.0h-10.0zM1454.3 796.7h30.0v10.0h-30.0zM1174.3 806.7h10.0v10.0h-10.0zM1334.3 806.7h10.0v10.0h-10.0zM1384.3 806.7h10.0v10.0h-10.0zM1164.3 816.7h10.0v10.0h-10.0zM1394.3 816.7h20.0v10.0h-20.0zM1194.3 826.7h10.0v10.0h-10.0zM1244.3 826.7h10.0v10.0h-10.0zM1324.3 826.7h10.0v10.0h-10.0zM1414.3 826.7h10.0v10.0h-10.0zM1484.3 826.7h20.0v10.0h-20.0zM1194.3 836.7h10.0v10.0h-10.0zM1294.3 836.7h20.0v10.0h-20.0zM1334.3 836.7h10.0v10.0h-10.0zM1414.3 836.7h10.0v10.0h-10.0zM1434.3 836.7h10.0v10.0h-10.0zM1464.3 836.7h10.0v10.0h-10.0z" fill="#b6b6ff"/>
<path d="M1304.3 486.7h10.0v10.0h-10.0zM1344.3 486.7h10.0v10.0h-10.0zM1364.3 486.7h10.0v10.0h-10.0zM1144.3 496.7h10.0v10.0h-10.0zM1284.3 496.7h10.0v10.0h-10.0zM1404.3 496.7h10.0v10.0h-10.0zM1444.3 496.7h10.0v10.0h-10.0zM1234.3 506.7h10.0v10.0h-10.0zM1244.3 516.7h10.0v10.0h-10.0zM1294.3 516.7h10.0v10.0h-10.0zM1334.3 516.7h10.0v10.0h-10.0zM1414.3 516.7h10.0v10.0h-10.0zM1164.3 526.7h10.0v10.0h-10.0zM1224.3 526.7h10.0v10.0h-10.0zM1164.3 536.7h10.0v10.0h-10.0zM1234.3 536.7h10.0v10.0h-10.0zM1334.3 536.7h10.0v10.0h-10.0zM1264.3 546.7h10.0v10.0h-10.0zM1334.3 546.7h10.0v10.0h-10.0zM1354.3 546.7h10.0v10.0h-10.0zM1344.3 556.7h10.0v10.0h-10.0zM1214.3 566.7h30.0v10.0h-30.0zM1384.3 566.7h10.0v10.0h-10.0zM1374.3 576.7h10.0v10.0h-10.0zM1404.3 576.7h10.0v10.0h-10.0zM1244.3 586.7h10.0v10.0h-10.0zM1334.3 586.7h20.0v10.0h-20.0zM1484.3 586.7h10.0v10.0h-10.0zM1224.3 596.7h10.0v10.0h-10.0zM1394.3 596.7h10.0v10.0h-10.0zM1474.3 596.7h10.0v10.0h-10.0zM1494.3 596.7h10.0v10.0h-10.0zM1154.3 606.7h10.0v10.0h-10.0zM1274.3 606.7h10.0v10.0h-10.0zM1344.3 606.7h10.0v10.0h-10.0zM1164.3 616.7h20.0v10.0h-20.0zM1204.3 626.7h10.0v10.0h-10.0zM1284.3 626.7h10.0v10.0h-10.0zM1424.3 626.7h10.0v10.0h-10.0zM1204.3 636.7h10.0v10.0h-10.0zM1444.3 636.7h10.0v10.0h-10.0zM1154.3 646.7h10.0v10.0h-10.0zM1324.3 646.7h10.0v10.0h-10.0zM1494.3 646.7h10.0v10.0h-10.0zM1164.3 656.7h10.0v10.0h-10.0zM1224.3 656.7h10.0v10.0h-10.0zM1254.3 666.7h20.0v10.0h-20.0zM1304.3 666.7h10.0v10.0h-10.0zM1154.3 676.7h20.0v10.0h-20.0zM1274.3 676.7h10.0v10.0h-10.0zM1364.3 686.7h10.0v10.0h-10.0zM1214.3 696.7h10.0v10.0h-10.0zM1184.3 706.7h10.0v10.0h-10.0zM1354.3 706.7h10.0v10.0h-10.0zM1484.3 706.7h10.0v10.0h-10.0zM1194.3 716.7h10.0v10.0h-10.0zM1214.3 716.7h10.0v10.0h-10.0zM1454.3 716.7h10.0v10.0h-10.0zM1324.3 726.7h10.0v10.0h-10.0zM1404.3 726.7h20.0v10.0h-20.0zM1464.3 726.7h10.0v10.0h-10.0zM1304.3 736.7h20.0v10.0h-20.0zM1474.3 736.7h10.0v10.0h-10.0zM1194.3 746.7h10.0v10.0h-10.0zM1234.3 746.7h10.0v10.0h-10.0zM1264.3 746.7h10.0v10.0h-10.0zM1354.3 746.7h10.0v10.0h-10.0zM1254.3 756.7h10.0v10.0h-10.0zM1174.3 766.7h10.0v10.0h-10.0zM1294.3 766.7h10.0v10.0h-10.0zM1344.3 766.7h10.0v10.0h-10.0zM1194.3 776.7h10.0v10.0h-10.0zM1364.3 776.7h10.0v10.0h-10.0zM1144.3 786.7h10.0v10.0h-10.0zM1284.3 786.7h10.0v10.0h-10.0zM1474.3 786.7h10.0v10.0h-10.0zM1254.3 806.7h10.0v10.0h-10.0zM1344.3 806.7h10.0v10.0h-10.0zM1154.3 816.7h10.0v10.0h-10.0zM1164.3 826.7h10.0v10.0h-10.0zM1334.3 826.7h10.0v10.0h-10.0zM1354.3 836.7h10.0v10.0h-10.0z" fill="#9292ff"/>
<path d="M1184.3 486.7h10.0v10.0h-10.0zM1284.3 486.7h20.0v10.0h-20.0zM1454.3 486.7h10.0v10.0h-10.0zM1224.3 506.7h10.0v10.0h-10.0zM1384.3 506.7h10.0v10.0h-10.0zM1464.3 506.7h10.0v10.0h-10.0zM1224.3 516.7h10.0v10.0h-10.0zM1344.3 526.7h10.0v10.0h-10.0zM1354.3 536.7h10.0v10.0h-10.0zM1494.3 536.7h10.0v10.0h-10.0zM1164.3 546.7h10.0v10.0h-10.0zM1184.3 546.7h10.0v10.0h-10.0zM1274.3 556.7h10.0v10.0h-10.0zM1294.3 556.7h10.0v10.0h-10.0zM1294.3 566.7h10.0v10.0h-10.0zM1164.3 586.7h10.0v10.0h-10.0zM1154.3 596.7h10.0v10.0h-10.0zM1174.3 596.7h10.0v10.0h-10.0zM1324.3 596.7h10.0v10.0h-10.0zM1264.3 606.7h10.0v10.0h-10.0zM1474.3 606.7h10.0v10.0h-10.0zM1494.3 606.7h10.0v10.0h-10.0zM1284.3 616.7h10.0v10.0h-10.0zM1374.3 626.7h10.0v10.0h-10.0zM1434.3 626.7h20.0v10.0h-20.0zM1224.3 636.7h10.0v10.0h-10.0zM1274.3 636.7h10.0v10.0h-10.0zM1204.3 646.7h10.0v10.0h-10.0zM1394.3 646.7h10.0v10.0h-10.0zM1474.3 646.7h20.0v10.0h-20.0zM1144.3 656.7h10.0v10.0h-10.0zM1334.3 656.7h10.0v10.0h-10.0zM1324.3 676.7h10.0v10.0h-10.0zM1414.3 676.7h10.0v10.0h-10.0zM1274.3 686.7h10.0v10.0h-10.0zM1194.3 696.7h10.0v10.0h-10.0zM1264.3 696.7h10.0v10.0h-10.0zM1354.3 696.7h10.0v10.0h-10.0zM1214.3 706.7h10.0v10.0h-10.0zM1304.3 706.7h10.0v10.0h-10.0zM1464.3 706.7h10.0v10.0h-10.0zM1364.3 716.7h10.0v10.0h-10.0zM1484.3 716.7h10.0v10.0h-10.0zM1244.3 726.7h20.0v10.0h-20.0zM1144.3 736.7h10.0v10.0h-10.0zM1254.3 736.7h10.0v10.0h-10.0zM1404.3 736.7h10.0v10.0h-10.0zM1414.3 746.7h20.0v10.0h-20.0zM1344.3 756.7h10.0v10.0h-10.0zM1204.3 766.7h10.0v10.0h-10.0zM1284.3 776.7h10.0v10.0h-10.0zM1304.3 776.7h10.0v10.0h-10.0zM1474.3 776.7h10.0v10.0h-10.0zM1454.3 786.7h10.0v10.0h-10.0zM1244.3 796.7h10.0v10.0h-10.0zM1394.3 796.7h10.0v10.0h-10.0zM1414.3 796.7h10.0v10.0h-10.0zM1394.3 806.7h10.0v10.0h-10.0zM1234.3 816.7h10.0v10.0h-10.0zM1354.3 816.7h10.0v10.0h-10.0zM1354.3 826.7h10.0v10.0h-10.0zM1434.3 826.7h20.0v10.0h-20.0zM1174.3 836.7h20.0v10.0h-20.0zM1274.3 836.7h10.0v10.0h-10.0z" fill="#6767ff"/>
<path d="M1474.3 496.7h10.0v10.0h-10.0zM1304.3 506.7h10.0v10.0h-10.0zM1404.3 506.7h10.0v10.0h-10.0zM1174.3 526.7h10.0v10.0h-10.0zM1234.3 526.7h20.0v10.0h-20.0zM1274.3 546.7h10.0v10.0h-10.0zM1454.3 566.7h10.0v10.0h-10.0zM1214.3 576.7h10.0v10.0h-10.0zM1234.3 576.7h10.0v10.0h-10.0zM1234.3 586.7h10.0v10.0h-10.0zM1384.3 586.7h20.0v10.0h-20.0zM1324.3 606.7h10.0v10.0h-10.0zM1434.3 606.7h10.0v10.0h-10.0zM1264.3 626.7h10.0v10.0h-10.0zM1314.3 646.7h10.0v10.0h-10.0zM1304.3 656.7h10.0v10.0h-10.0zM1474.3 656.7h10.0v10.0h-10.0zM1164.3 666.7h10.0v10.0h-10.0zM1314.3 666.7h10.0v10.0h-10.0zM1424.3 666.7h10.0v10.0h-10.0zM1434.3 676.7h10.0v10.0h-10.0zM1414.3 686.7h10.0v10.0h-10.0zM1434.3 686.7h10.0v10.0h-10.0zM1374.3 696.7h10.0v10.0h-10.0zM1194.3 706.7h10.0v10.0h-10.0zM1374.3 706.7h10.0v10.0h-10.0zM1204.3 716.7h10.0v10.0h-10.0zM1474.3 726.7h10.0v10.0h-10.0zM1244.3 736.7h10.0v10.0h-10.0zM1424.3 736.7h10.0v10.0h-10.0zM1364.3 756.7h10.0v10.0h-10.0zM1194.3 766.7h10.0v10.0h-10.0zM1184.3 776.7h10.0v10.0h-10.0zM1224.3 796.7h20.0v10.0h-20.0zM1224.3 806.7h10.0v10.0h-10.0zM1414.3 806.7h10.0v10.0h-10.0zM1174.3 816.7h10.0v10.0h-10.0zM1344.3 836.7h10.0v10.0h-10.0z" fill="#4470cc"/>
<path d="M1194.3 486.7h10.0v10.0h-10.0zM1464.3 486.7h10.0v10.0h-10.0zM1304.3 496.7h10.0v10.0h-10.0zM1294.3 506.7h10.0v10.0h-10.0zM1394.3 506.7h10.0v10.0h-10.0zM1174.3 536.7h10.0v10.0h-10.0zM1174.3 546.7h10.0v10.0h-10.0zM1344.3 546.7h10.0v10.0h-10.0zM1444.3 566.7h10.0v10.0h-10.0zM1384.3 576.7h10.0v10.0h-10.0zM1324.3 586.7h10.0v10.0h-10.0zM1494.3 586.7h10.0v10.0h-10.0zM1174.3 606.7h10.0v10.0h-10.0zM1334.3 606.7h10.0v10.0h-10.0zM1424.3 616.7h10.0v10.0h-10.0zM1384.3 636.7h10.0v10.0h-10.0zM1374.3 646.7h10.0v10.0h-10.0zM1154.3 656.7h10.0v10.0h-10.0zM1144.3 666.7h20.0v10.0h-20.0zM1474.3 666.7h10.0v10.0h-10.0zM1364.3 696.7h10.0v10.0h-10.0zM1404.3 746.7h10.0v10.0h-10.0zM1184.3 756.7h10.0v10.0h-10.0zM1364.3 766.7h10.0v10.0h-10.0zM1294.3 776.7h10.0v10.0h-10.0zM1184.3 816.7h10.0v10.0h-10.0zM1244.3 816.7h10.0v10.0h-10.0zM1184.3 826.7h10.0v10.0h-10.0zM1454.3 836.7h10.0v10.0h-10.0z" fill="#338b99"/>
<path d="M1354.3 486.7h10.0v10.0h-10.0zM1454.3 496.7h10.0v10.0h-10.0zM1184.3 536.7h10.0v10.0h-10.0zM1344.3 536.7h10.0v10.0h-10.0zM1284.3 546.7h10.0v10.0h-10.0zM1284.3 566.7h10.0v10.0h-10.0zM1484.3 596.7h10.0v10.0h-10.0zM1264.3 616.7h10.0v10.0h-10.0zM1444.3 616.7h10.0v10.0h-10.0zM1274.3 626.7h10.0v10.0h-10.0zM1214.3 636.7h10.0v10.0h-10.0zM1374.3 636.7h10.0v10.0h-10.0zM1224.3 646.7h10.0v10.0h-10.0zM1384.3 646.7h10.0v10.0h-10.0zM1314.3 656.7h10.0v10.0h-10.0zM1494.3 656.7h10.0v10.0h-10.0zM1324.3 666.7h10.0v10.0h-10.0zM1364.3 706.7h10.0v10.0h-10.0zM1144.3 716.7h10.0v10.0h-10.0zM1304.3 726.7h20.0v10.0h-20.0zM1484.3 726.7h10.0v10.0h-10.0zM1414.3 736.7h10.0v10.0h-10.0zM1194.3 756.7h10.0v10.0h-10.0zM1464.3 776.7h10.0v10.0h-10.0zM1304.3 786.7h10.0v10.0h-10.0zM1404.3 796.7h10.0v10.0h-10.0zM1284.3 836.7h10.0v10.0h-10.0z" fill="#1bb152"/>
<path d="M1294.3 496.7h10.0v10.0h-10.0zM1464.3 496.7h10.0v10.0h-10.0zM1234.3 516.7h10.0v10.0h-10.0zM1394.3 516.7h20.0v10.0h-20.0zM1334.3 526.7h10.0v10.0h-10.0zM1444.3 546.7h10.0v10.0h-10.0zM1284.3 556.7h10.0v10.0h-10.0zM1444.3 556.7h10.0v10.0h-10.0zM1224.3 576.7h10.0v10.0h-10.0zM1394.3 576.7h10.0v10.0h-10.0zM1224.3 586.7h10.0v10.0h-10.0zM1164.3 596.7h10.0v10.0h-10.0zM1334.3 596.7h10.0v10.0h-10.0zM1164.3 606.7h10.0v10.0h-10.0zM1484.3 606.7h10.0v10.0h-10.0zM1274.3 616.7h10.0v10.0h-10.0zM1434.3 616.7h10.0v10.0h-10.0zM1214.3 646.7h10.0v10.0h-10.0zM1324.3 656.7h10.0v10.0h-10.0zM1484.3 656.7h10.0v10.0h-10.0zM1484.3 666.7h10.0v10.0h-10.0zM1254.3 676.7h20.0v10.0h-20.0zM1424.3 676.7h10.0v10.0h-10.0zM1254.3 686.7h20.0v10.0h-20.0zM1424.3 686.7h10.0v10.0h-10.0zM1204.3 696.7h10.0v10.0h-10.0zM1204.3 706.7h10.0v10.0h-10.0zM1304.3 716.7h20.0v10.0h-20.0zM1464.3 716.7h20.0v10.0h-20.0zM1144.3 726.7h10.0v10.0h-10.0zM1244.3 746.7h20.0v10.0h-20.0zM1354.3 756.7h10.0v10.0h-10.0zM1184.3 766.7h10.0v10.0h-10.0zM1354.3 766.7h10.0v10.0h-10.0zM1454.3 776.7h10.0v10.0h-10.0zM1294.3 786.7h10.0v10.0h-10.0zM1464.3 786.7h10.0v10.0h-10.0zM1234.3 806.7h20.0v10.0h-20.0zM1404.3 806.7h10.0v10.0h-10.0zM1334.3 816.7h20.0v10.0h-20.0zM1174.3 826.7h10.0v10.0h-10.0zM1344.3 826.7h10.0v10.0h-10.0zM1444.3 836.7h10.0v10.0h-10.0z" fill="#03d908"/>
</g>
<g clip-path="url(#clipC)">
<polygon points="1235.4,592.8 1182.8,580.1 1190.5,570.9 1074.1,473.9 1089.4,455.6 1205.8,552.6 1213.4,543.4" fill="#f5080e" fill-opacity="0.85" stroke="#fff" stroke-opacity="0.9" stroke-width="1" stroke-linejoin="miter"/>
<text transform="translate(1206.2,568.5) rotate(39.8)" x="0" y="7.6" font-size="21.5" text-anchor="middle" font-family='"DejaVu Sans", "Liberation Sans", sans-serif' fill="#fff">L1</text>
<polygon points="1433.0,628.4 1471.1,590.0 1475.0,601.4 1618.2,552.0 1626.0,574.5 1482.7,623.9 1486.6,635.2" fill="#f5080e" fill-opacity="0.85" stroke="#fff" stroke-opacity="0.9" stroke-width="1" stroke-linejoin="miter"/>
<text transform="translate(1467.8,616.4) rotate(-19.0)" x="0" y="7.6" font-size="21.5" text-anchor="middle" font-family='"DejaVu Sans", "Liberation Sans", sans-serif' fill="#fff">L2</text>
<polygon points="1302.5,781.1 1317.4,833.1 1305.6,830.9 1278.8,980.0 1255.4,975.8 1282.2,826.7 1270.4,824.6" fill="#f5080e" fill-opacity="0.85" stroke="#fff" stroke-opacity="0.9" stroke-width="1" stroke-linejoin="miter"/>
<text transform="translate(1296.6,814.1) rotate(-79.8)" x="0" y="7.6" font-size="21.5" text-anchor="middle" font-family='"DejaVu Sans", "Liberation Sans", sans-serif' fill="#fff">L3</text>
<rect x="1381.5" y="519.5" width="104" height="50.5" rx="5" ry="5" fill="#fff" fill-opacity="0.8"/>
<rect x="1386.3" y="559" width="93.2" height="6" fill="#000"/>
<text x="1432.6" y="544.9" font-size="22" text-anchor="middle" font-family='"DejaVu Sans", "Liberation Sans", sans-serif' fill="#000"  >1 <tspan font-style="italic">µ</tspan>m</text>
<polygon points="1471.5,785.5 1456.0,802.7 1453.3,795.3 1406.6,812.5 1404.6,806.9 1451.2,789.8 1448.6,782.5" fill="#000"/>
<polygon points="1418.8,740.9 1425.5,763.1 1417.8,761.6 1408.5,810.3 1402.7,809.1 1412.0,760.5 1404.4,759.0" fill="#000"/>
<circle cx="1405.6" cy="809.7" r="2.6" fill="#000"/>
<text x="1433.7" y="824.4" font-size="26.5" font-weight="bold" font-family='"DejaVu Sans", "Liberation Sans", sans-serif' fill="#000">a<tspan font-size="18.5" dy="4.4">1</tspan></text>
<text x="1373.1" y="771.0" font-size="26.5" font-weight="bold" font-family='"DejaVu Sans", "Liberation Sans", sans-serif' fill="#000">a<tspan font-size="18.5" dy="5.8">2</tspan></text>
</g>
<rect x="1148.5" y="491.7" width="350.4000000000001" height="350.40000000000003" fill="none" stroke="#222" stroke-width="1"/>
<rect x="1506.3" y="491.2" width="18.8" height="351.40000000000003" fill="url(#cbC)"/>
<rect x="1506.8" y="491.7" width="17.8" height="350.40000000000003" fill="none" stroke="#222" stroke-width="1"/>
<rect x="1524.6" y="491.00" width="4" height="1.2" fill="#000"/>
<text x="1533.0" y="499.1" font-size="27" text-anchor="start" font-family='"Liberation Sans", Arial, sans-serif' fill="#000" stroke="#000" stroke-width="0.45" stroke-linejoin="round" >25</text>
<rect x="1524.6" y="561.18" width="4" height="1.2" fill="#000"/>
<text x="1533.0" y="569.28" font-size="27" text-anchor="start" font-family='"Liberation Sans", Arial, sans-serif' fill="#000" stroke="#000" stroke-width="0.45" stroke-linejoin="round" >20</text>
<rect x="1524.6" y="631.36" width="4" height="1.2" fill="#000"/>
<text x="1533.0" y="639.46" font-size="27" text-anchor="start" font-family='"Liberation Sans", Arial, sans-serif' fill="#000" stroke="#000" stroke-width="0.45" stroke-linejoin="round" >15</text>
<rect x="1524.6" y="701.54" width="4" height="1.2" fill="#000"/>
<text x="1533.0" y="709.64" font-size="27" text-anchor="start" font-family='"Liberation Sans", Arial, sans-serif' fill="#000" stroke="#000" stroke-width="0.45" stroke-linejoin="round" >10</text>
<rect x="1524.6" y="771.72" width="4" height="1.2" fill="#000"/>
<text x="1533.0" y="779.82" font-size="27" text-anchor="start" font-family='"Liberation Sans", Arial, sans-serif' fill="#000" stroke="#000" stroke-width="0.45" stroke-linejoin="round" >5</text>
<rect x="1524.6" y="841.90" width="4" height="1.2" fill="#000"/>
<text x="1533.0" y="850.0" font-size="27" text-anchor="start" font-family='"Liberation Sans", Arial, sans-serif' fill="#000" stroke="#000" stroke-width="0.45" stroke-linejoin="round" >0</text>
<text transform="translate(1599.8,664.8) rotate(-90)" font-size="29.6" text-anchor="middle" font-family='"Liberation Sans", Arial, sans-serif' fill="#000" stroke="#000" stroke-width="0.45" stroke-linejoin="round">Number of events</text>
<text x="1074.8" y="461.6" font-size="45.3" text-anchor="start" font-family='"Liberation Sans", Arial, sans-serif' fill="#000" stroke="#000" stroke-width="0.45" stroke-linejoin="round" >(c)</text>
</svg>
</body></html>
